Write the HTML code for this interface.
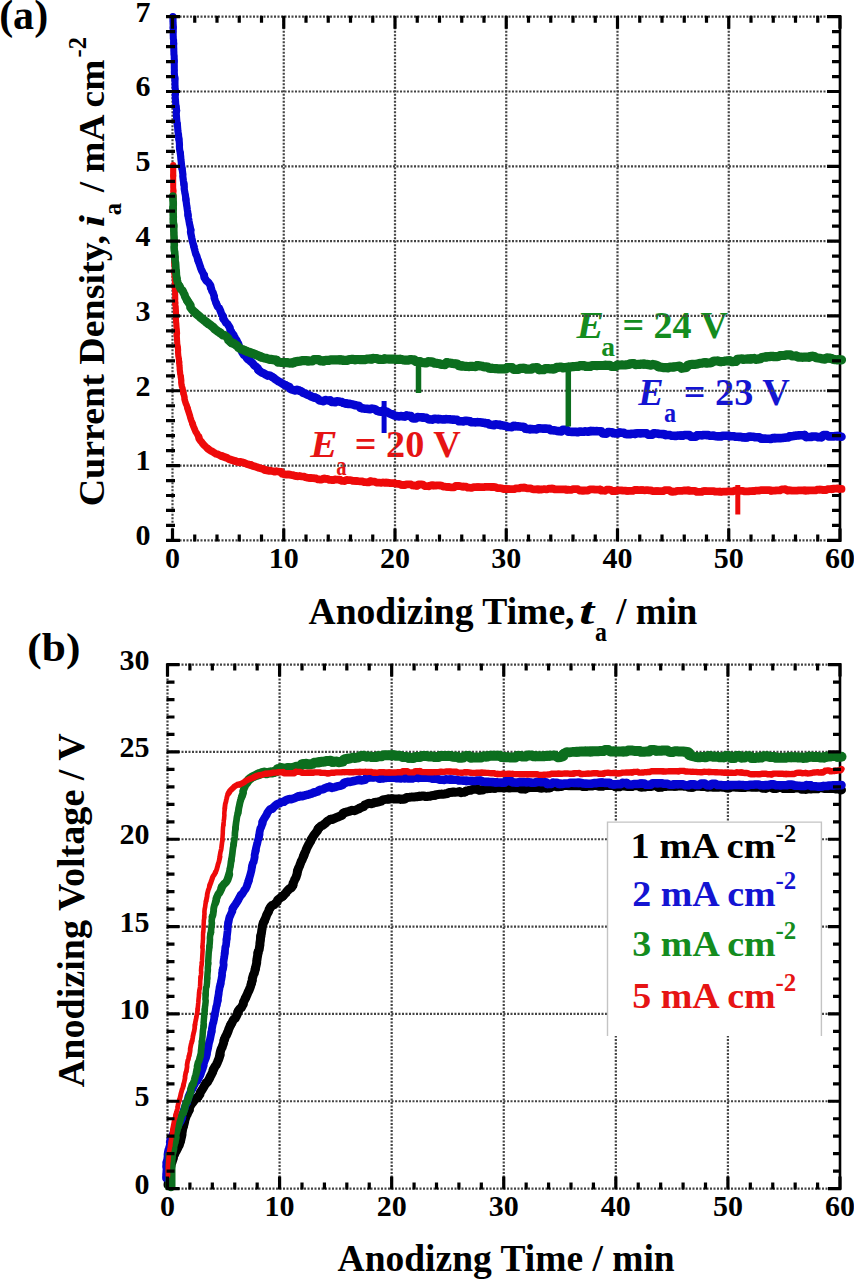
<!DOCTYPE html><html><head><meta charset="utf-8"><style>html,body{margin:0;padding:0;background:#fff;}svg{display:block;}</style></head><body>
<svg width="854" height="1280" viewBox="0 0 854 1280">
<rect width="854" height="1280" fill="#fff"/>
<text x="310.20" y="457.20" font-size="37" fill="#e61414" font-family="Liberation Serif, serif" font-weight="bold" font-style="italic" textLength="27.32" lengthAdjust="spacingAndGlyphs" xml:space="preserve">E</text>
<text x="336.18" y="474.80" font-size="27" fill="#e61414" font-family="Liberation Serif, serif" font-weight="bold" textLength="10.33" lengthAdjust="spacingAndGlyphs" xml:space="preserve">a</text>
<text x="354.79" y="456.80" font-size="37" fill="#e61414" font-family="Liberation Serif, serif" font-weight="bold" textLength="105.94" lengthAdjust="spacingAndGlyphs" xml:space="preserve">= 20 V</text>
<text x="576.51" y="338.00" font-size="37" fill="#148c1e" font-family="Liberation Serif, serif" font-weight="bold" font-style="italic" textLength="27.43" lengthAdjust="spacingAndGlyphs" xml:space="preserve">E</text>
<text x="601.18" y="355.60" font-size="27" fill="#148c1e" font-family="Liberation Serif, serif" font-weight="bold" textLength="13.74" lengthAdjust="spacingAndGlyphs" xml:space="preserve">a</text>
<text x="622.40" y="338.00" font-size="37" fill="#148c1e" font-family="Liberation Serif, serif" font-weight="bold" textLength="105.53" lengthAdjust="spacingAndGlyphs" xml:space="preserve">= 24 V</text>
<text x="638.19" y="404.80" font-size="37" fill="#1414d2" font-family="Liberation Serif, serif" font-weight="bold" font-style="italic" textLength="25.40" lengthAdjust="spacingAndGlyphs" xml:space="preserve">E</text>
<text x="664.07" y="421.80" font-size="27" fill="#1414d2" font-family="Liberation Serif, serif" font-weight="bold" textLength="12.09" lengthAdjust="spacingAndGlyphs" xml:space="preserve">a</text>
<text x="683.79" y="404.80" font-size="37" fill="#1414d2" font-family="Liberation Serif, serif" font-weight="bold" textLength="105.94" lengthAdjust="spacingAndGlyphs" xml:space="preserve">= 23 V</text>
<line x1="283.75" y1="16.7" x2="283.75" y2="540.4" stroke="#444" stroke-width="2.2" stroke-dasharray="2 1.5" fill="none"/>
<line x1="395.00" y1="16.7" x2="395.00" y2="540.4" stroke="#444" stroke-width="2.2" stroke-dasharray="2 1.5" fill="none"/>
<line x1="506.25" y1="16.7" x2="506.25" y2="540.4" stroke="#444" stroke-width="2.2" stroke-dasharray="2 1.5" fill="none"/>
<line x1="617.50" y1="16.7" x2="617.50" y2="540.4" stroke="#444" stroke-width="2.2" stroke-dasharray="2 1.5" fill="none"/>
<line x1="728.75" y1="16.7" x2="728.75" y2="540.4" stroke="#444" stroke-width="2.2" stroke-dasharray="2 1.5" fill="none"/>
<line x1="172.5" y1="465.59" x2="840.0" y2="465.59" stroke="#444" stroke-width="2.2" stroke-dasharray="2 1.5" fill="none"/>
<line x1="172.5" y1="390.77" x2="840.0" y2="390.77" stroke="#444" stroke-width="2.2" stroke-dasharray="2 1.5" fill="none"/>
<line x1="172.5" y1="315.96" x2="840.0" y2="315.96" stroke="#444" stroke-width="2.2" stroke-dasharray="2 1.5" fill="none"/>
<line x1="172.5" y1="241.14" x2="840.0" y2="241.14" stroke="#444" stroke-width="2.2" stroke-dasharray="2 1.5" fill="none"/>
<line x1="172.5" y1="166.33" x2="840.0" y2="166.33" stroke="#444" stroke-width="2.2" stroke-dasharray="2 1.5" fill="none"/>
<line x1="172.5" y1="91.51" x2="840.0" y2="91.51" stroke="#444" stroke-width="2.2" stroke-dasharray="2 1.5" fill="none"/>
<line x1="172.5" y1="16.7" x2="840.0" y2="16.7" stroke="#444" stroke-width="2.2" stroke-dasharray="2 1.5" fill="none"/>
<line x1="172.5" y1="540.4" x2="840.0" y2="540.4" stroke="#444" stroke-width="2.2" stroke-dasharray="2 1.5" fill="none"/>
<line x1="172.5" y1="16.7" x2="172.5" y2="540.4" stroke="#444" stroke-width="2.2" stroke-dasharray="2 1.5" fill="none"/>
<line x1="840.0" y1="15.2" x2="840.0" y2="541.9" stroke="#000" stroke-width="2.6"/>
<line x1="279.58" y1="664.6" x2="279.58" y2="1188.6" stroke="#444" stroke-width="2.2" stroke-dasharray="2 1.5" fill="none"/>
<line x1="391.67" y1="664.6" x2="391.67" y2="1188.6" stroke="#444" stroke-width="2.2" stroke-dasharray="2 1.5" fill="none"/>
<line x1="503.75" y1="664.6" x2="503.75" y2="1188.6" stroke="#444" stroke-width="2.2" stroke-dasharray="2 1.5" fill="none"/>
<line x1="615.83" y1="664.6" x2="615.83" y2="1188.6" stroke="#444" stroke-width="2.2" stroke-dasharray="2 1.5" fill="none"/>
<line x1="727.92" y1="664.6" x2="727.92" y2="1188.6" stroke="#444" stroke-width="2.2" stroke-dasharray="2 1.5" fill="none"/>
<line x1="167.5" y1="1101.27" x2="840.0" y2="1101.27" stroke="#444" stroke-width="2.2" stroke-dasharray="2 1.5" fill="none"/>
<line x1="167.5" y1="1013.93" x2="840.0" y2="1013.93" stroke="#444" stroke-width="2.2" stroke-dasharray="2 1.5" fill="none"/>
<line x1="167.5" y1="926.60" x2="840.0" y2="926.60" stroke="#444" stroke-width="2.2" stroke-dasharray="2 1.5" fill="none"/>
<line x1="167.5" y1="839.27" x2="840.0" y2="839.27" stroke="#444" stroke-width="2.2" stroke-dasharray="2 1.5" fill="none"/>
<line x1="167.5" y1="751.93" x2="840.0" y2="751.93" stroke="#444" stroke-width="2.2" stroke-dasharray="2 1.5" fill="none"/>
<line x1="167.5" y1="664.6" x2="840.0" y2="664.6" stroke="#444" stroke-width="2.2" stroke-dasharray="2 1.5" fill="none"/>
<line x1="167.5" y1="1188.6" x2="840.0" y2="1188.6" stroke="#444" stroke-width="2.2" stroke-dasharray="2 1.5" fill="none"/>
<line x1="167.5" y1="664.6" x2="167.5" y2="1188.6" stroke="#444" stroke-width="2.2" stroke-dasharray="2 1.5" fill="none"/>
<line x1="840.0" y1="663.1" x2="840.0" y2="1190.1" stroke="#000" stroke-width="2.6"/>
<g stroke="#0505d2" fill="none" stroke-linejoin="round" stroke-linecap="round"><path d="M172.9,16.7 L172.9,17.5 L173.0,18.4 L173.0,19.3 L173.0,20.3 L173.0,21.4 L173.1,22.5 L173.1,23.7 L173.2,25.0 L173.2,26.3 L173.2,27.7" stroke-width="7.19"/><path d="M173.2,27.7 L173.2,29.1 L173.3,30.6 L173.3,32.1 L173.2,33.6 L173.2,35.2 L173.3,36.8 L173.3,38.4 L173.6,40.1 L173.6,41.8 L173.7,43.5" stroke-width="7.04"/><path d="M173.7,43.5 L173.7,45.3 L173.7,47.0 L173.8,48.8 L173.8,50.6 L173.9,52.4 L173.9,54.2 L174.2,56.0 L174.2,57.9 L174.3,59.7 L174.2,61.5" stroke-width="7.05"/><path d="M174.2,61.5 L174.2,63.3 L174.3,65.1 L174.3,66.8 L174.3,68.6 L174.4,70.4 L174.3,72.1 L174.4,73.8 L174.5,75.5 L174.9,77.1 L174.9,78.7" stroke-width="7.05"/><path d="M174.9,78.7 L175.0,80.3 L175.0,81.8 L175.0,83.3 L175.0,84.8 L175.1,86.2 L175.1,87.5 L175.3,88.8 L175.4,90.1 L175.4,91.3 L175.5,93.4" stroke-width="7.06"/><path d="M175.5,93.4 L175.2,95.5 L175.3,97.5 L175.4,99.4 L175.6,101.3 L175.7,103.0 L175.8,104.7 L176.3,106.3 L176.4,107.9 L176.5,109.5 L176.6,111.0" stroke-width="7.10"/><path d="M176.6,111.0 L176.2,112.4 L176.3,113.9 L176.4,115.2 L176.5,116.6 L176.6,117.9 L176.7,119.3 L176.8,120.6 L176.9,121.8 L177.2,123.1 L177.3,124.4" stroke-width="7.13"/><path d="M177.3,124.4 L177.5,125.7 L177.6,127.0 L177.7,128.3 L177.8,129.6 L177.9,131.0 L178.1,132.7 L178.5,134.3 L178.6,135.9 L178.8,137.5 L178.9,139.0" stroke-width="7.14"/><path d="M178.9,139.0 L179.1,140.5 L179.3,142.0 L179.4,143.5 L179.5,144.9 L179.4,146.4 L179.5,147.9 L179.6,149.3 L179.8,150.7 L180.2,152.1 L180.4,153.6" stroke-width="7.16"/><path d="M180.4,153.6 L180.5,155.0 L180.7,156.5 L180.8,157.9 L180.9,159.4 L181.1,160.9 L181.3,162.5 L181.4,164.0 L181.6,165.5 L181.8,167.0 L182.0,168.5" stroke-width="7.18"/><path d="M182.0,168.5 L182.3,170.0 L182.5,171.5 L182.7,173.1 L182.9,174.6 L182.8,176.2 L183.0,177.7 L183.2,179.3 L183.4,180.8 L183.7,182.4 L183.9,183.9" stroke-width="7.21"/><path d="M183.9,183.9 L184.1,185.5 L184.3,187.0 L184.2,188.5 L184.4,190.1 L184.7,191.6 L184.9,193.1 L185.3,194.5 L185.5,196.0 L185.7,197.6 L185.9,199.2" stroke-width="7.22"/><path d="M185.9,199.2 L186.1,200.8 L186.3,202.4 L186.5,204.0 L186.7,205.6 L187.0,207.2 L187.2,208.8 L187.4,210.3 L187.7,211.9 L187.8,213.5 L188.0,215.0" stroke-width="7.22"/><path d="M188.0,215.0 L188.2,216.6 L188.4,218.1 L188.8,219.6 L189.0,221.1 L189.3,222.6 L189.5,224.1 L189.9,225.5 L190.2,227.0 L190.5,228.6 L190.8,230.2" stroke-width="7.26"/><path d="M190.8,230.2 L190.5,231.9 L190.8,233.5 L191.2,235.1 L191.5,236.7 L191.8,238.3 L192.2,239.9 L192.5,241.4 L192.8,242.9 L193.3,244.4 L193.7,245.9" stroke-width="7.34"/><path d="M193.7,245.9 L194.0,247.3 L194.4,248.8 L194.8,250.1 L195.1,251.5 L195.5,252.8 L195.8,254.0 L196.7,255.8 L197.2,257.6 L197.7,259.3 L198.3,261.0" stroke-width="7.42"/><path d="M198.3,261.0 L198.9,262.6 L199.4,264.1 L199.9,265.6 L200.4,267.0 L200.8,268.4 L201.3,269.6 L201.8,270.8 L202.4,271.8 L203.4,274.0 L204.2,275.5" stroke-width="7.57"/><path d="M204.2,275.5 L204.2,277.3 L204.9,278.4 L205.7,279.7 L206.6,281.0 L207.9,281.9 L208.9,283.1 L209.8,284.4 L210.6,285.9 L210.7,287.4 L211.2,288.6" stroke-width="7.81"/><path d="M211.2,288.6 L211.7,290.0 L212.1,291.4 L213.1,292.8 L213.6,294.5 L214.3,296.4 L214.2,297.8 L214.7,299.2 L215.2,300.6 L215.8,302.1 L216.4,303.6" stroke-width="7.53"/><path d="M216.4,303.6 L217.0,305.1 L217.6,306.7 L219.1,308.0 L219.8,309.5 L220.5,311.0 L221.0,312.6 L221.7,314.0 L222.5,315.3 L223.3,316.7 L223.3,318.6" stroke-width="7.69"/><path d="M223.3,318.6 L224.2,319.9 L225.1,321.3 L225.9,322.7 L227.3,323.7 L228.2,325.1 L229.0,326.4 L229.9,327.8 L230.1,329.5 L230.8,330.9 L231.5,332.2" stroke-width="7.82"/><path d="M231.5,332.2 L232.2,333.6 L233.6,334.7 L234.2,336.1 L234.9,337.6 L235.6,338.9 L236.6,340.2 L237.3,341.5 L237.9,342.8 L238.6,344.1 L238.7,345.7" stroke-width="7.71"/><path d="M238.7,345.7 L239.5,347.1 L240.2,348.5 L241.0,349.9 L241.5,351.3 L242.3,352.6 L243.1,353.9 L243.9,355.2 L245.3,356.0 L246.3,357.3 L247.3,358.5" stroke-width="7.85"/><path d="M247.3,358.5 L248.3,359.6 L249.6,360.4 L250.7,361.5 L251.9,362.6 L253.1,363.7 L254.0,365.1 L255.2,366.1 L256.5,367.1 L257.7,368.1 L258.3,370.0" stroke-width="8.18"/><path d="M258.3,370.0 L259.5,370.9 L260.8,371.9 L262.1,372.8 L263.7,373.3 L265.0,374.1 L266.3,374.9 L267.7,375.7 L269.6,375.4 L270.9,376.2 L272.3,377.0" stroke-width="8.35"/><path d="M272.3,377.0 L273.6,377.8 L274.8,378.8 L276.0,379.7 L277.3,380.5 L278.5,381.4 L279.9,382.0 L281.1,382.8 L282.4,383.6 L283.8,384.4 L285.2,385.1" stroke-width="8.35"/><path d="M285.2,385.1 L286.7,385.8 L288.0,386.4 L289.4,386.9 L290.3,388.9 L291.8,389.5 L293.4,390.0 L295.0,390.5 L297.0,389.8 L298.6,390.3 L300.1,390.9" stroke-width="8.49"/><path d="M300.1,390.9 L301.6,391.4 L302.8,392.7 L304.3,393.2 L305.8,393.9 L307.3,394.6 L308.9,395.1 L310.2,395.9 L311.6,396.6 L313.0,397.3 L314.7,397.5" stroke-width="8.46"/><path d="M314.7,397.5 L316.1,398.1 L317.7,398.7 L319.1,400.3 L320.5,400.6 L322.0,400.9 L323.6,401.2 L325.3,400.1 L326.9,400.3 L328.6,400.4 L330.3,400.6" stroke-width="8.55"/><path d="M330.3,400.6 L331.8,401.9 L333.5,402.0 L335.2,402.2 L336.9,401.2 L338.6,401.4 L340.1,401.7 L341.8,402.0 L343.2,402.9 L344.8,403.2 L346.3,403.5" stroke-width="8.58"/><path d="M346.3,403.5 L347.8,403.9 L349.4,403.8 L350.9,404.1 L352.4,404.4 L354.0,404.8 L355.6,405.3 L357.3,405.6 L359.1,406.0 L360.2,407.8 L361.7,408.1" stroke-width="8.56"/><path d="M361.7,408.1 L363.3,408.4 L365.0,408.7 L366.7,408.7 L368.4,409.0 L370.2,409.3 L372.1,408.6 L373.8,408.9 L375.5,409.3 L376.9,410.8 L378.4,411.1" stroke-width="8.57"/><path d="M378.4,411.1 L379.9,411.5 L381.3,411.8 L382.9,410.6 L384.2,410.9 L386.3,411.5 L387.7,412.1 L388.5,412.9 L389.4,413.4 L390.6,413.8 L392.3,414.3" stroke-width="8.52"/><path d="M392.3,414.3 L394.9,415.8 L395.9,415.9 L397.0,416.1 L398.2,416.2 L399.4,416.4 L400.7,416.1 L402.0,416.3 L403.4,416.4 L404.8,416.6 L406.4,415.6" stroke-width="8.58"/><path d="M406.4,415.6 L407.8,415.8 L409.4,415.9 L410.9,416.1 L412.3,418.2 L414.0,418.4 L415.7,418.5 L417.5,417.0 L419.3,417.2 L421.0,417.3 L422.8,417.6" stroke-width="8.59"/><path d="M422.8,417.6 L424.6,417.8 L426.4,417.9 L428.1,419.2 L429.9,419.4 L431.3,419.5 L432.6,419.6 L434.0,418.8 L435.4,418.9 L436.9,419.0 L438.3,419.1" stroke-width="8.59"/><path d="M438.3,419.1 L439.8,419.1 L441.3,419.2 L442.8,419.4 L444.3,419.5 L445.9,419.1 L447.5,419.2 L449.0,419.3 L450.6,419.4 L452.2,419.6 L453.8,419.7" stroke-width="8.60"/><path d="M453.8,419.7 L455.4,419.8 L457.0,419.9 L458.5,421.1 L460.1,421.2 L461.7,421.3 L463.3,421.4 L465.0,420.8 L466.5,420.9 L468.1,421.0 L469.7,421.2" stroke-width="8.60"/><path d="M469.7,421.2 L471.1,422.1 L472.7,422.2 L474.2,422.3 L475.7,422.4 L477.2,422.1 L478.6,422.2 L480.0,422.3 L481.7,422.5 L483.3,422.8 L484.9,423.0" stroke-width="8.59"/><path d="M484.9,423.0 L486.5,423.2 L488.0,423.3 L489.4,424.6 L491.0,424.8 L492.5,425.0 L494.0,425.2 L495.6,424.3 L497.1,424.5 L498.6,424.7 L500.1,424.9" stroke-width="8.59"/><path d="M500.1,424.9 L501.5,425.3 L503.0,425.5 L504.5,425.7 L506.0,425.9 L507.4,426.7 L508.8,426.9 L510.3,427.1 L511.8,427.3 L513.5,425.9 L515.0,426.1" stroke-width="8.59"/><path d="M515.0,426.1 L516.5,426.3 L518.0,426.4 L519.6,426.5 L521.1,426.7 L522.7,426.8 L524.1,427.0 L525.5,428.8 L527.0,428.9 L528.6,429.0 L530.1,429.1" stroke-width="8.59"/><path d="M530.1,429.1 L531.7,429.1 L533.3,429.2 L534.9,429.3 L536.5,429.4 L538.2,428.3 L539.8,428.4 L541.4,428.5 L543.0,428.6 L544.6,428.6 L546.2,428.7" stroke-width="8.60"/><path d="M546.2,428.7 L547.8,428.8 L549.3,428.9 L550.8,430.2 L552.4,430.3 L554.0,430.4 L555.5,430.5 L557.0,431.0 L558.5,431.1 L559.9,431.2 L561.4,431.3" stroke-width="8.60"/><path d="M561.4,431.3 L562.9,429.7 L564.3,429.8 L565.7,429.9 L567.0,430.0 L568.2,431.7 L570.0,431.8 L571.8,431.9 L573.4,431.8 L575.0,431.9 L576.5,432.0" stroke-width="8.60"/><path d="M576.5,432.0 L578.0,432.1 L579.4,431.6 L580.8,431.6 L582.2,431.7 L583.6,431.8 L584.9,431.4 L586.3,431.5 L587.7,431.6 L589.0,431.6 L590.5,431.0" stroke-width="8.60"/><path d="M590.5,431.0 L591.9,431.1 L593.4,431.1 L595.0,431.2 L596.6,431.1 L598.3,431.2 L600.0,431.3 L601.4,431.3 L602.6,433.4 L603.9,433.5 L605.2,433.5" stroke-width="8.60"/><path d="M605.2,433.5 L606.6,433.6 L608.0,432.1 L609.3,432.1 L610.7,432.2 L612.1,432.2 L613.5,433.3 L614.9,433.4 L616.3,433.4 L617.7,433.5 L619.2,432.6" stroke-width="8.60"/><path d="M619.2,432.6 L620.7,432.6 L622.2,432.7 L623.8,432.7 L625.3,434.0 L626.8,434.1 L628.4,434.1 L630.0,434.2 L631.7,433.8 L633.4,433.8 L635.1,433.9" stroke-width="8.60"/><path d="M635.1,433.9 L636.8,433.3 L638.6,433.3 L640.3,433.4 L642.2,433.2 L644.0,433.3 L645.3,433.3 L646.6,433.4 L648.0,434.6 L649.3,434.7 L650.7,434.7" stroke-width="8.60"/><path d="M650.7,434.7 L652.1,434.8 L653.6,433.4 L655.0,433.4 L656.5,433.5 L657.9,433.6 L659.4,434.0 L660.9,434.0 L662.4,434.1 L664.0,434.1 L665.5,434.9" stroke-width="8.60"/><path d="M665.5,434.9 L667.0,435.0 L668.6,435.0 L670.1,435.1 L671.7,435.8 L673.3,435.8 L674.9,435.9 L676.5,435.9 L678.1,435.5 L679.7,435.5 L681.3,435.6" stroke-width="8.60"/><path d="M681.3,435.6 L682.9,435.6 L684.5,435.0 L686.1,435.0 L687.7,435.1 L689.4,435.1 L690.9,436.6 L692.5,436.6 L694.1,436.7 L695.7,436.7 L697.4,435.2" stroke-width="8.60"/><path d="M697.4,435.2 L699.0,435.3 L700.5,435.3 L702.1,435.4 L703.7,435.0 L705.3,435.0 L706.8,435.1 L708.3,435.1 L709.9,435.7 L711.4,435.8 L713.0,435.8" stroke-width="8.60"/><path d="M713.0,435.8 L714.6,435.9 L716.2,436.3 L717.8,436.4 L719.4,436.4 L721.0,436.5 L722.7,435.7 L724.3,435.7 L726.0,435.8 L727.6,435.8 L729.3,436.1" stroke-width="8.60"/><path d="M729.3,436.1 L730.9,436.2 L732.6,436.2 L734.2,436.3 L735.9,436.8 L737.5,436.8 L739.2,436.9 L740.8,436.9 L742.4,437.4 L744.0,437.4 L745.6,437.5" stroke-width="8.60"/><path d="M745.6,437.5 L747.2,437.5 L748.8,436.6 L750.4,436.6 L752.0,436.7 L753.5,436.7 L755.0,437.3 L756.5,437.3 L758.0,437.3 L759.4,437.3 L760.9,438.5" stroke-width="8.60"/><path d="M760.9,438.5 L762.3,438.6 L763.6,438.6 L765.0,438.6 L766.3,438.8 L767.6,438.8 L768.9,438.8 L770.1,438.9 L771.3,438.9 L772.5,438.1 L774.7,438.1" stroke-width="8.60"/><path d="M774.7,438.1 L776.8,438.1 L778.7,438.1 L780.6,438.1 L782.3,438.0 L783.9,437.7 L785.4,437.6 L786.9,437.5 L788.3,437.4 L789.5,436.4 L790.8,436.3" stroke-width="8.60"/><path d="M790.8,436.3 L792.1,436.2 L793.4,436.0 L794.7,435.7 L795.9,435.6 L797.2,435.5 L798.6,435.4 L800.0,435.3 L801.4,435.2 L803.0,435.2 L804.6,435.1" stroke-width="8.60"/><path d="M804.6,435.1 L806.1,437.1 L807.6,437.0 L809.2,437.0 L810.9,437.0 L812.6,436.5 L814.4,436.5 L816.1,436.5 L817.9,437.1 L819.7,437.1 L821.5,437.1" stroke-width="8.60"/><path d="M821.5,437.1 L823.3,435.0 L825.1,435.0 L826.8,435.1 L828.5,436.4 L830.2,436.4 L831.8,436.4 L833.3,436.5 L834.8,436.1 L836.1,436.1 L837.4,436.1" stroke-width="8.60"/><path d="M837.4,436.1 L838.6,436.1 L839.7,436.2 L840.7,436.7 L841.5,436.7" stroke-width="8.60"/></g>
<path d="M384.1,401 V433" stroke="#0505d2" stroke-width="5"/>
<g stroke="#ee0a0a" fill="none" stroke-linejoin="round" stroke-linecap="round"><path d="M173.2,165.0 L173.2,165.8 L173.2,166.7 L173.2,167.6 L173.2,168.6 L173.2,169.6 L173.2,170.7 L173.2,171.9 L173.2,173.1 L173.2,174.4 L173.2,175.7" stroke-width="6.17"/><path d="M173.2,175.7 L173.2,177.0 L173.2,178.4 L173.2,179.9 L173.2,181.4 L173.2,182.9 L173.2,184.5 L173.2,186.1 L173.2,187.7 L173.4,189.3 L173.4,191.0" stroke-width="6.00"/><path d="M173.4,191.0 L173.4,192.7 L173.4,194.5 L173.5,196.2 L173.5,198.0 L173.3,199.8 L173.4,201.6 L173.4,203.4 L173.4,205.2 L173.4,207.1 L173.4,208.9" stroke-width="6.01"/><path d="M173.4,208.9 L173.3,210.8 L173.3,212.6 L173.3,214.5 L173.4,216.3 L173.4,218.2 L173.4,220.0 L173.4,221.3 L173.5,222.6 L173.5,224.0 L173.5,225.4" stroke-width="6.02"/><path d="M173.5,225.4 L173.6,226.8 L173.6,228.2 L173.6,229.7 L173.7,231.2 L173.7,232.7 L173.7,234.2 L173.7,235.7 L173.7,237.2 L173.8,238.8 L174.0,240.4" stroke-width="6.03"/><path d="M174.0,240.4 L174.0,241.9 L174.0,243.5 L174.1,245.1 L174.0,246.8 L174.0,248.4 L174.1,250.0 L174.1,251.6 L174.2,253.3 L174.3,254.9 L174.3,256.5" stroke-width="6.04"/><path d="M174.3,256.5 L174.3,258.2 L174.1,259.8 L174.1,261.5 L174.2,263.1 L174.2,264.7 L174.6,266.3 L174.6,267.9 L174.6,269.6 L174.7,271.1 L174.4,272.7" stroke-width="6.04"/><path d="M174.4,272.7 L174.4,274.3 L174.5,275.9 L174.5,277.4 L174.9,279.0 L174.9,280.5 L174.9,282.0 L175.0,283.5 L174.8,284.9 L174.8,286.4 L174.8,287.8" stroke-width="6.05"/><path d="M174.8,287.8 L174.9,289.2 L175.1,290.6 L175.1,291.9 L175.1,293.2 L175.2,294.5 L175.2,295.8 L175.2,297.0 L175.3,299.0 L175.2,300.9 L175.3,302.9" stroke-width="6.06"/><path d="M175.3,302.9 L175.3,304.7 L175.7,306.6 L175.8,308.4 L175.9,310.2 L176.0,312.0 L176.0,313.7 L176.1,315.4 L175.8,317.1 L175.9,318.7 L176.0,320.3" stroke-width="6.08"/><path d="M176.0,320.3 L176.1,321.9 L176.3,323.4 L176.4,324.9 L176.5,326.4 L176.6,327.9 L176.8,329.3 L176.9,330.7 L177.0,332.0 L177.1,333.4 L176.7,334.7" stroke-width="6.10"/><path d="M176.7,334.7 L176.8,336.0 L176.9,337.2 L177.0,338.4 L177.0,339.6 L177.1,340.7 L177.2,341.9 L177.2,342.9 L177.3,344.0 L177.8,346.5 L178.0,348.6" stroke-width="6.11"/><path d="M178.0,348.6 L178.1,350.3 L178.0,351.8 L178.1,353.1 L178.2,354.3 L178.3,355.4 L178.4,356.5 L178.7,357.6 L178.8,358.9 L179.0,360.3 L179.2,362.0" stroke-width="6.16"/><path d="M179.2,362.0 L179.2,363.3 L179.4,364.7 L179.5,366.2 L179.7,367.7 L179.7,369.3 L179.9,370.9 L180.1,372.5 L180.2,374.1 L180.7,375.7 L180.9,377.4" stroke-width="6.20"/><path d="M180.9,377.4 L181.1,379.0 L181.3,380.6 L181.2,382.2 L181.4,383.8 L181.6,385.2 L181.9,386.7 L182.5,388.0 L182.8,389.8 L183.2,391.4 L183.4,393.0" stroke-width="6.29"/><path d="M183.4,393.0 L183.8,394.6 L184.2,396.0 L184.5,397.5 L184.5,399.1 L184.9,400.5 L185.3,402.0 L185.8,403.5 L186.6,405.1 L187.1,406.8 L187.5,408.1" stroke-width="6.48"/><path d="M187.5,408.1 L187.9,409.6 L188.4,411.1 L188.9,412.6 L189.4,414.2 L189.9,415.8 L190.3,417.4 L190.8,419.0 L191.3,420.6 L192.0,422.1 L192.5,423.7" stroke-width="6.56"/><path d="M192.5,423.7 L193.0,425.1 L193.5,426.5 L194.1,427.9 L194.6,429.1 L195.1,430.3 L195.9,432.1 L196.9,433.5 L197.6,434.9 L198.2,436.1 L198.9,437.2" stroke-width="6.72"/><path d="M198.9,437.2 L199.0,438.7 L199.8,439.8 L200.7,441.0 L201.8,442.2 L202.5,443.4 L203.4,444.5 L204.5,445.5 L205.6,446.6 L206.7,447.6 L207.9,448.7" stroke-width="7.21"/><path d="M207.9,448.7 L209.2,449.7 L210.4,450.7 L212.0,451.3 L213.3,452.2 L214.7,453.1 L216.1,453.9 L217.6,454.2 L218.9,454.8 L220.2,455.4 L221.6,456.0" stroke-width="7.53"/><path d="M221.6,456.0 L223.0,456.5 L224.4,457.0 L225.8,457.5 L227.3,458.0 L228.6,459.0 L230.2,459.5 L231.7,460.0 L233.3,460.5 L234.9,461.0 L236.2,461.4" stroke-width="7.71"/><path d="M236.2,461.4 L237.6,461.9 L239.0,462.3 L240.7,461.8 L242.1,462.3 L243.5,462.7 L245.0,463.2 L246.4,463.8 L247.9,464.3 L249.4,464.7 L250.9,465.1" stroke-width="7.72"/><path d="M250.9,465.1 L252.4,465.8 L253.9,466.2 L255.4,466.6 L256.9,467.1 L258.4,467.7 L259.8,468.1 L261.3,468.5 L262.7,468.8 L264.1,469.7 L265.6,470.1" stroke-width="7.74"/><path d="M265.6,470.1 L267.0,470.4 L268.5,470.8 L270.1,470.6 L271.7,471.0 L273.2,471.3 L274.7,471.7 L276.4,471.2 L277.9,471.5 L279.5,471.8 L281.0,472.1" stroke-width="7.76"/><path d="M281.0,472.1 L282.3,473.8 L283.9,474.2 L285.3,474.4 L286.7,474.7 L288.2,474.3 L289.6,474.6 L291.0,474.9 L292.4,475.1 L293.8,475.5 L295.2,475.8" stroke-width="7.77"/><path d="M295.2,475.8 L296.6,476.1 L298.1,476.3 L299.6,476.0 L301.1,476.3 L302.6,476.5 L304.1,476.7 L305.6,477.3 L307.2,477.6 L308.8,477.8 L310.5,478.0" stroke-width="7.78"/><path d="M310.5,478.0 L312.2,478.1 L313.5,478.2 L314.9,478.4 L316.2,478.5 L317.5,479.3 L318.9,479.4 L320.3,479.6 L321.7,479.7 L323.2,478.6 L324.6,478.7" stroke-width="7.79"/><path d="M324.6,478.7 L326.0,478.8 L327.5,478.9 L328.9,479.8 L330.4,479.9 L331.9,480.0 L333.5,480.1 L335.1,479.5 L336.6,479.6 L338.2,479.7 L339.8,479.8" stroke-width="7.80"/><path d="M339.8,479.8 L341.4,480.8 L343.1,480.9 L344.8,481.0 L346.6,479.9 L348.3,480.1 L350.1,480.2 L351.4,480.3 L352.7,480.8 L354.1,480.9 L355.5,480.9" stroke-width="7.80"/><path d="M355.5,480.9 L356.9,481.0 L358.3,481.2 L359.8,481.3 L361.2,481.4 L362.7,481.5 L364.1,482.1 L365.6,482.2 L367.1,482.3 L368.6,482.4 L370.2,481.4" stroke-width="7.80"/><path d="M370.2,481.4 L371.7,481.5 L373.3,481.6 L374.8,481.7 L376.4,482.5 L377.9,482.6 L379.5,482.7 L381.1,482.8 L382.7,482.5 L384.4,482.6 L386.0,482.7" stroke-width="7.80"/><path d="M386.0,482.7 L387.6,482.7 L389.2,483.0 L390.9,483.1 L392.5,483.2 L394.2,483.2 L395.9,483.7 L397.5,483.8 L399.2,483.9 L400.9,484.8 L402.3,484.9" stroke-width="7.80"/><path d="M402.3,484.9 L403.7,485.0 L405.1,485.1 L406.6,484.3 L408.0,484.4 L409.5,484.4 L411.0,484.5 L412.4,485.4 L413.9,485.5 L415.4,485.6 L416.9,485.7" stroke-width="7.80"/><path d="M416.9,485.7 L418.5,484.4 L420.0,484.4 L421.5,484.5 L423.0,484.6 L424.5,486.0 L426.0,486.1 L427.6,486.2 L429.1,486.3 L430.7,485.3 L432.3,485.4" stroke-width="7.80"/><path d="M432.3,485.4 L433.9,485.5 L435.4,485.6 L437.0,485.3 L438.6,485.4 L440.1,485.5 L441.7,485.6 L443.2,486.7 L444.8,486.7 L446.3,486.8 L447.9,486.9" stroke-width="7.80"/><path d="M447.9,486.9 L449.4,487.2 L451.0,487.3 L452.5,487.4 L454.1,487.4 L455.7,485.9 L457.2,485.9 L458.8,486.0 L460.3,486.1 L461.8,486.6 L463.3,486.6" stroke-width="7.80"/><path d="M463.3,486.6 L464.8,486.7 L466.3,486.7 L467.8,487.7 L469.3,487.7 L470.8,487.8 L472.2,487.8 L473.7,487.1 L475.2,487.2 L476.7,487.2 L478.1,487.2" stroke-width="7.80"/><path d="M478.1,487.2 L479.6,487.1 L481.0,487.1 L482.5,487.2 L483.9,487.2 L485.4,486.8 L486.9,486.9 L488.3,486.9 L489.8,486.9 L491.3,487.0 L492.7,487.0" stroke-width="7.80"/><path d="M492.7,487.0 L494.2,487.1 L495.7,487.1 L497.2,488.2 L498.7,488.2 L500.2,488.2 L501.7,488.3 L503.2,489.0 L504.8,489.0 L506.3,489.0 L507.9,489.1" stroke-width="7.80"/><path d="M507.9,489.1 L509.4,489.1 L511.0,489.2 L512.6,489.2 L514.2,489.2 L515.9,488.4 L517.5,488.4 L519.2,488.4 L520.9,487.6 L522.6,487.6 L524.0,487.7" stroke-width="7.80"/><path d="M524.0,487.7 L525.4,487.7 L526.7,488.3 L528.1,488.3 L529.5,488.3 L530.8,488.4 L532.2,489.2 L533.6,489.3 L534.9,489.3 L536.3,489.3 L537.7,489.4" stroke-width="7.80"/><path d="M537.7,489.4 L539.1,489.5 L540.5,489.5 L541.9,489.5 L543.3,489.2 L544.7,489.2 L546.1,489.3 L547.5,489.3 L549.0,488.6 L550.4,488.6 L551.8,488.7" stroke-width="7.80"/><path d="M551.8,488.7 L553.3,488.7 L554.7,489.3 L556.2,489.3 L557.7,489.3 L559.1,489.4 L560.6,489.3 L562.1,489.3 L563.7,489.4 L565.2,489.4 L566.7,489.7" stroke-width="7.80"/><path d="M566.7,489.7 L568.3,489.7 L569.8,489.8 L571.4,489.8 L573.0,489.2 L574.6,489.2 L576.2,489.2 L577.9,489.2 L579.5,490.5 L581.2,490.5 L582.9,490.6" stroke-width="7.80"/><path d="M582.9,490.6 L584.6,490.5 L586.3,490.5 L588.0,490.6 L589.8,489.3 L591.5,489.3 L593.3,489.3 L595.1,489.6 L597.0,489.6 L598.8,489.6 L600.1,489.6" stroke-width="7.80"/><path d="M600.1,489.6 L601.4,490.7 L602.6,490.7 L603.9,490.7 L605.2,490.8 L606.6,489.7 L607.9,489.7 L609.2,489.7 L610.6,489.8 L611.9,491.0 L613.3,491.0" stroke-width="7.80"/><path d="M613.3,491.0 L614.6,491.0 L616.0,491.0 L617.4,490.3 L618.7,490.3 L620.1,490.3 L621.5,490.4 L622.9,490.7 L624.3,490.7 L625.7,490.7 L627.2,490.8" stroke-width="7.80"/><path d="M627.2,490.8 L628.6,490.8 L630.0,490.8 L631.5,490.8 L632.9,490.9 L634.4,490.0 L635.8,490.0 L637.3,490.0 L638.8,490.1 L640.3,490.2 L641.7,490.2" stroke-width="7.80"/><path d="M641.7,490.2 L643.2,490.2 L644.7,490.3 L646.2,490.2 L647.7,490.2 L649.2,490.3 L650.8,490.3 L652.3,491.1 L653.8,491.1 L655.3,491.1 L656.9,491.1" stroke-width="7.80"/><path d="M656.9,491.1 L658.4,491.1 L660.0,491.2 L661.5,491.2 L663.1,491.2 L664.6,490.2 L666.2,490.2 L667.8,490.2 L669.3,490.2 L670.9,491.6 L672.5,491.6" stroke-width="7.80"/><path d="M672.5,491.6 L674.1,491.6 L675.7,491.6 L677.3,490.8 L678.9,490.8 L680.5,490.8 L682.1,490.8 L683.7,490.5 L685.3,490.5 L686.9,490.5 L688.6,490.5" stroke-width="7.80"/><path d="M688.6,490.5 L690.2,490.9 L691.8,490.9 L693.5,490.9 L695.1,490.9 L696.7,491.9 L698.4,491.9 L700.0,491.9 L701.7,491.9 L703.3,491.1 L705.0,491.1" stroke-width="7.80"/><path d="M705.0,491.1 L706.6,491.1 L708.3,491.1 L709.7,491.2 L711.1,491.2 L712.5,491.2 L714.0,491.2 L715.5,491.7 L717.0,491.7 L718.5,491.7 L720.0,491.7" stroke-width="7.80"/><path d="M720.0,491.7 L721.6,491.8 L723.1,491.7 L724.7,491.7 L726.3,491.7 L727.9,491.3 L729.6,491.3 L731.2,491.3 L732.9,491.3 L734.5,490.7 L736.2,490.6" stroke-width="7.80"/><path d="M736.2,490.6 L737.9,490.6 L739.6,490.9 L741.3,490.9 L743.1,490.9 L744.8,491.4 L746.5,491.4 L748.3,491.4 L750.0,491.1 L751.8,491.1 L753.5,491.1" stroke-width="7.80"/><path d="M753.5,491.1 L755.3,490.7 L757.1,490.7 L758.8,490.6 L760.6,490.2 L762.4,490.2 L764.1,490.2 L765.9,490.2 L767.7,490.1 L769.5,490.1 L771.2,490.7" stroke-width="7.80"/><path d="M771.2,490.7 L773.0,490.7 L774.8,490.7 L776.5,490.4 L778.3,490.3 L780.0,490.3 L781.7,489.3 L783.5,489.3 L785.2,489.2 L786.9,490.5 L788.6,490.4" stroke-width="7.80"/><path d="M788.6,490.4 L790.3,490.4 L792.0,490.7 L793.7,490.7 L795.4,490.7 L797.0,490.6 L798.6,490.4 L800.3,490.4 L801.9,490.4 L803.5,490.3 L805.1,490.5" stroke-width="7.80"/><path d="M805.1,490.5 L806.6,490.5 L808.2,490.5 L809.7,490.4 L811.2,490.4 L812.7,490.4 L814.2,490.4 L815.6,490.4 L817.0,489.7 L818.4,489.6 L819.8,489.6" stroke-width="7.80"/><path d="M819.8,489.6 L821.1,489.6 L822.5,490.0 L823.8,490.0 L825.1,490.0 L826.3,490.0 L827.5,489.2 L828.7,489.2 L829.9,489.2 L831.1,489.1 L832.2,489.1" stroke-width="7.80"/><path d="M832.2,489.1 L833.2,488.6 L834.3,488.6 L835.3,488.6 L836.3,488.6 L837.3,488.5 L838.2,488.5 L839.1,489.0 L839.9,489.0 L840.7,488.9 L841.5,488.9" stroke-width="7.80"/></g>
<path d="M737.8,485 V514.5" stroke="#ee0a0a" stroke-width="5"/>
<g stroke="#0c6e1e" fill="none" stroke-linejoin="round" stroke-linecap="round"><path d="M172.9,196.0 L172.9,196.8 L172.9,197.7 L173.0,198.8 L173.0,199.9 L173.1,201.1 L173.2,202.5 L173.2,203.8 L173.2,205.3 L173.0,206.9 L173.1,208.4" stroke-width="7.69"/><path d="M173.1,208.4 L173.1,210.1 L173.1,211.8 L173.2,213.5 L173.2,215.2 L173.3,217.0 L173.2,218.8 L173.3,220.6 L173.3,222.4 L173.7,224.1 L173.7,225.9" stroke-width="7.54"/><path d="M173.7,225.9 L173.8,227.6 L173.8,229.3 L173.8,231.0 L173.9,232.6 L173.9,234.2 L174.0,235.7 L174.1,237.1 L174.1,238.5 L174.1,239.8 L174.2,241.0" stroke-width="7.55"/><path d="M174.2,241.0 L174.2,243.1 L174.3,245.1 L174.1,246.9 L174.2,248.7 L174.3,250.4 L174.7,251.9 L174.8,253.4 L174.9,254.9 L175.0,256.2 L174.9,257.6" stroke-width="7.59"/><path d="M174.9,257.6 L175.0,258.9 L175.1,260.1 L175.2,261.4 L175.5,262.6 L175.6,263.8 L175.7,265.0 L175.8,266.8 L175.9,268.5 L176.0,270.1 L176.1,271.6" stroke-width="7.63"/><path d="M176.1,271.6 L176.2,273.0 L176.2,274.3 L176.4,275.7 L176.6,277.0 L177.0,278.5 L177.0,280.1 L177.4,281.6 L177.9,283.1 L178.5,284.6 L179.4,286.1" stroke-width="7.90"/><path d="M179.4,286.1 L180.1,287.6 L180.8,289.2 L182.3,290.3 L183.1,291.8 L183.8,293.3 L184.6,294.7 L185.0,296.3 L185.7,297.7 L186.5,299.1 L187.2,300.5" stroke-width="8.27"/><path d="M187.2,300.5 L188.1,301.7 L188.9,303.0 L189.7,304.2 L190.5,305.5 L190.4,307.4 L191.4,308.7 L192.4,309.9 L193.4,311.1 L194.6,312.1 L195.7,313.2" stroke-width="8.52"/><path d="M195.7,313.2 L196.8,314.2 L198.0,315.3 L199.3,316.3 L200.5,317.4 L201.8,318.4 L203.1,319.4 L204.3,320.5 L205.6,321.5 L206.8,322.5 L208.0,323.4" stroke-width="8.81"/><path d="M208.0,323.4 L209.3,324.3 L210.6,325.3 L211.9,326.3 L213.2,327.2 L214.2,328.5 L215.4,329.5 L216.7,330.5 L217.9,331.4 L219.2,332.1 L220.3,332.9" stroke-width="8.84"/><path d="M220.3,332.9 L221.6,334.0 L222.9,335.1 L224.7,335.3 L225.9,336.3 L227.1,337.4 L228.2,338.3 L228.5,340.2 L229.6,341.1 L230.7,342.0 L231.8,342.9" stroke-width="8.80"/><path d="M231.8,342.9 L233.7,343.4 L235.0,344.4 L236.3,345.3 L237.6,346.2 L238.6,347.6 L240.1,348.5 L241.7,349.4 L243.2,349.7 L244.6,350.4 L246.0,351.0" stroke-width="8.94"/><path d="M246.0,351.0 L247.5,351.7 L249.2,352.1 L250.7,352.8 L252.3,353.4 L253.9,353.9 L255.4,354.5 L256.9,355.1 L258.4,355.7 L259.8,356.4 L261.2,356.9" stroke-width="9.07"/><path d="M261.2,356.9 L262.7,357.5 L264.2,358.0 L265.7,358.2 L267.2,358.7 L268.7,359.1 L270.2,359.5 L271.8,359.4 L273.3,359.7 L274.9,360.0 L276.5,360.2" stroke-width="9.14"/><path d="M276.5,360.2 L278.0,362.1 L279.6,362.3 L281.3,362.5 L283.0,362.5 L284.7,362.6 L286.3,362.7 L288.0,362.7 L289.6,363.1 L291.1,363.0 L292.4,362.9" stroke-width="9.19"/><path d="M292.4,362.9 L293.8,362.7 L295.0,361.8 L296.4,361.6 L298.0,361.4 L299.8,361.2 L301.9,360.7 L304.3,360.6 L305.5,360.6 L306.7,360.6 L308.0,361.0" stroke-width="9.19"/><path d="M308.0,361.0 L309.4,361.0 L310.9,361.0 L312.4,361.0 L313.9,359.6 L315.5,359.6 L317.1,359.6 L318.8,359.6 L320.4,360.9 L322.1,360.9 L323.8,360.9" stroke-width="9.20"/><path d="M323.8,360.9 L325.5,360.4 L327.2,360.4 L328.9,360.4 L330.6,359.8 L332.2,359.8 L333.9,359.8 L335.5,359.8 L337.0,359.8 L338.5,359.8 L340.0,359.8" stroke-width="9.20"/><path d="M340.0,359.8 L341.6,359.8 L343.2,360.5 L344.7,360.4 L346.2,360.3 L347.6,360.3 L349.0,359.5 L350.4,359.5 L351.8,359.4 L353.2,359.3 L354.6,359.7" stroke-width="9.20"/><path d="M354.6,359.7 L356.0,359.6 L357.4,359.5 L358.8,359.5 L360.3,359.7 L361.9,359.7 L363.4,359.6 L365.1,359.6 L366.8,359.1 L368.5,359.0 L370.4,359.0" stroke-width="9.20"/><path d="M370.4,359.0 L371.7,359.1 L373.0,358.4 L374.4,358.5 L375.7,358.5 L377.1,358.5 L378.5,359.4 L380.0,359.4 L381.5,359.5 L383.0,359.5 L384.5,358.9" stroke-width="9.20"/><path d="M384.5,358.9 L386.0,359.0 L387.6,359.0 L389.1,359.1 L390.7,359.1 L392.3,359.2 L393.8,359.2 L395.4,359.3 L397.0,359.3 L398.7,359.3 L400.3,359.4" stroke-width="9.20"/><path d="M400.3,359.4 L401.9,359.5 L403.4,360.0 L405.0,360.1 L406.6,360.1 L408.2,360.2 L409.9,359.6 L411.4,359.7 L413.0,359.8 L414.5,359.9 L416.0,361.4" stroke-width="9.20"/><path d="M416.0,361.4 L417.5,361.5 L419.0,361.6 L420.5,361.7 L422.0,362.5 L423.5,362.7 L425.1,362.8 L426.6,362.9 L428.2,361.7 L429.8,361.8 L431.3,362.0" stroke-width="9.19"/><path d="M431.3,362.0 L432.8,362.1 L434.3,363.1 L435.8,363.2 L437.3,363.4 L438.8,363.5 L440.3,364.2 L441.9,364.4 L443.4,364.5 L444.9,364.7 L446.7,362.7" stroke-width="9.19"/><path d="M446.7,362.7 L448.2,362.9 L449.7,363.0 L451.2,363.2 L452.7,363.5 L454.3,363.7 L455.8,363.8 L457.3,364.0 L458.7,365.7 L460.2,365.8 L461.7,365.9" stroke-width="9.19"/><path d="M461.7,365.9 L463.3,366.1 L464.8,366.3 L466.3,366.4 L467.8,366.5 L469.3,366.6 L470.9,366.3 L472.4,366.4 L473.9,366.5 L475.5,366.6 L477.1,365.6" stroke-width="9.19"/><path d="M477.1,365.6 L478.6,365.7 L480.1,365.9 L481.6,366.0 L483.1,366.7 L484.6,366.8 L486.1,366.9 L487.7,367.0 L489.1,368.2 L490.6,368.3 L492.2,368.4" stroke-width="9.20"/><path d="M492.2,368.4 L493.7,368.5 L495.2,368.6 L496.7,368.7 L498.2,368.8 L499.8,368.9 L501.3,368.8 L502.8,368.8 L504.3,368.9 L505.9,369.0 L507.4,367.6" stroke-width="9.20"/><path d="M507.4,367.6 L509.0,367.6 L510.5,367.7 L512.1,367.7 L513.6,369.3 L515.2,369.4 L516.8,369.4 L518.4,369.4 L520.0,368.3 L521.7,368.3 L523.3,368.3" stroke-width="9.20"/><path d="M523.3,368.3 L524.9,368.3 L526.5,369.2 L528.1,369.2 L529.8,369.2 L531.4,369.2 L533.0,367.8 L534.5,367.8 L536.1,367.7 L537.6,367.7 L539.2,369.7" stroke-width="9.20"/><path d="M539.2,369.7 L540.7,369.7 L542.2,369.7 L543.7,369.7 L545.1,368.7 L546.5,368.7 L547.9,368.7 L549.2,368.7 L550.5,368.9 L551.8,368.9 L553.0,368.8" stroke-width="9.20"/><path d="M553.0,368.8 L555.0,368.8 L556.7,367.4 L558.4,367.3 L560.0,367.2 L561.5,367.1 L563.0,367.9 L564.4,367.7 L565.7,367.6 L567.0,367.4 L568.3,367.2" stroke-width="9.19"/><path d="M568.3,367.2 L569.5,367.0 L570.9,366.9 L572.2,366.7 L573.6,366.6 L575.1,366.5 L576.6,366.4 L578.3,366.3 L580.0,365.7 L581.3,365.6 L582.7,365.6" stroke-width="9.19"/><path d="M582.7,365.6 L584.2,365.6 L585.7,366.4 L587.2,366.4 L588.7,366.4 L590.3,366.4 L591.9,365.5 L593.6,365.5 L595.2,365.5 L596.9,365.6 L598.5,365.5" stroke-width="9.20"/><path d="M598.5,365.5 L600.2,365.5 L601.8,365.5 L603.5,365.5 L605.1,365.2 L606.7,365.3 L608.3,365.3 L609.9,365.3 L611.4,366.5 L613.0,366.5 L614.4,366.5" stroke-width="9.20"/><path d="M614.4,366.5 L615.8,366.5 L617.2,365.1 L618.5,365.1 L620.3,365.0 L622.0,364.9 L623.7,365.0 L625.3,364.9 L626.9,364.7 L628.4,364.5 L629.8,364.0" stroke-width="9.19"/><path d="M629.8,364.0 L631.2,363.8 L632.6,363.6 L634.0,363.5 L635.5,364.7 L636.9,364.5 L638.3,364.4 L639.7,364.4 L641.1,364.1 L642.5,364.1 L644.0,364.1" stroke-width="9.19"/><path d="M644.0,364.1 L645.5,364.2 L646.9,364.4 L648.4,364.6 L649.8,364.9 L651.2,365.2 L652.8,364.4 L654.2,364.7 L655.6,365.1 L657.1,365.4 L658.3,366.7" stroke-width="9.17"/><path d="M658.3,366.7 L659.8,367.0 L661.3,367.3 L662.9,367.6 L664.5,367.6 L666.2,367.7 L668.0,367.8 L669.8,367.2 L671.1,367.2 L672.4,367.1 L673.8,367.0" stroke-width="9.19"/><path d="M673.8,367.0 L675.2,366.7 L676.7,366.5 L678.2,366.3 L679.7,366.1 L681.6,368.3 L683.2,368.0 L684.8,367.8 L686.4,367.5 L687.7,365.2 L689.3,364.9" stroke-width="9.18"/><path d="M689.3,364.9 L691.0,364.6 L692.6,364.3 L694.3,364.5 L695.9,364.2 L697.5,363.9 L699.1,363.6 L700.7,363.3 L702.3,363.1 L703.8,362.8 L705.3,362.6" stroke-width="9.18"/><path d="M705.3,362.6 L706.9,363.2 L708.3,363.0 L710.0,362.8 L711.6,362.7 L713.1,361.3 L714.7,361.1 L716.3,361.0 L717.9,360.9 L719.5,361.7 L721.0,361.6" stroke-width="9.19"/><path d="M721.0,361.6 L722.5,361.5 L724.0,361.4 L725.5,361.0 L727.0,360.9 L728.4,360.8 L729.9,360.7 L731.5,361.7 L733.0,361.6 L734.4,361.5 L735.9,361.4" stroke-width="9.20"/><path d="M735.9,361.4 L737.3,359.3 L738.8,359.2 L740.3,359.0 L741.8,358.9 L743.4,359.5 L744.9,359.3 L746.5,359.1 L748.0,358.9 L749.6,359.1 L751.1,358.9" stroke-width="9.19"/><path d="M751.1,358.9 L752.6,358.7 L754.2,358.4 L755.8,359.4 L757.4,359.1 L758.9,358.9 L760.4,358.7 L761.8,357.5 L763.3,357.3 L764.9,357.1 L766.4,356.9" stroke-width="9.19"/><path d="M766.4,356.9 L767.9,356.7 L769.4,356.6 L771.0,356.4 L772.5,356.3 L774.0,356.7 L775.6,356.6 L777.1,356.6 L778.6,356.5 L780.0,355.6 L781.5,355.5" stroke-width="9.20"/><path d="M781.5,355.5 L783.0,355.5 L784.5,355.5 L786.0,354.8 L787.5,354.8 L789.0,354.8 L790.5,354.8 L792.0,356.0 L793.5,356.0 L795.1,356.0 L796.6,356.1" stroke-width="9.20"/><path d="M796.6,356.1 L798.2,357.1 L799.7,357.2 L801.3,357.2 L802.9,357.3 L804.6,357.0 L806.0,357.1 L807.6,357.2 L809.2,357.3 L810.9,356.3 L812.7,356.4" stroke-width="9.20"/><path d="M812.7,356.4 L814.4,356.6 L816.1,357.8 L817.9,358.0 L819.7,358.2 L821.4,358.7 L823.2,358.9 L825.0,359.1 L826.9,357.9 L828.6,358.1 L830.2,358.3" stroke-width="9.19"/><path d="M830.2,358.3 L831.8,358.5 L833.3,359.5 L834.7,359.6 L836.1,359.8 L837.4,360.0 L838.7,359.5 L839.7,359.7 L840.7,359.8 L841.5,359.9" stroke-width="9.19"/></g>
<path d="M418.5,360 V393" stroke="#0c6e1e" stroke-width="5.5"/>
<path d="M568.3,367 V426.5" stroke="#0c6e1e" stroke-width="5.5"/>
<g stroke="#000" fill="none" stroke-linejoin="round" stroke-linecap="round"><path d="M168.0,1185.0 L168.1,1184.1 L168.3,1182.9 L168.4,1181.5 L168.4,1179.9 L168.6,1178.2 L168.8,1176.5 L169.4,1174.8 L169.6,1173.1 L169.9,1171.5 L170.1,1170.0" stroke-width="9.00"/><path d="M170.1,1170.0 L170.4,1168.4 L170.7,1166.8 L171.1,1165.2 L171.4,1163.7 L172.0,1162.3 L172.4,1160.9 L172.9,1159.5 L173.4,1158.2 L173.4,1156.4 L174.1,1154.9" stroke-width="9.00"/><path d="M174.1,1154.9 L174.9,1153.5 L175.6,1152.1 L176.4,1150.7 L177.1,1149.3 L177.8,1147.9 L178.3,1146.5 L179.3,1145.2 L179.7,1143.7 L180.2,1142.2 L180.6,1140.7" stroke-width="9.00"/><path d="M180.6,1140.7 L181.0,1139.0 L181.4,1137.2 L181.7,1135.9 L182.0,1134.5 L182.0,1132.9 L182.3,1131.4 L182.5,1129.9 L182.8,1128.3 L183.4,1126.7 L183.7,1125.1" stroke-width="9.00"/><path d="M183.7,1125.1 L184.1,1123.6 L184.6,1122.0 L184.8,1120.4 L185.3,1118.9 L185.8,1117.4 L186.3,1115.8 L187.2,1114.4 L187.8,1112.9 L188.5,1111.4 L189.2,1109.9" stroke-width="9.00"/><path d="M189.2,1109.9 L189.3,1108.0 L190.1,1106.5 L190.8,1105.2 L191.6,1103.9 L192.6,1102.7 L193.5,1101.4 L194.4,1100.1 L195.4,1098.9 L197.1,1098.2 L198.0,1096.9" stroke-width="9.00"/><path d="M198.0,1096.9 L199.0,1095.6 L199.9,1094.4 L200.2,1092.7 L201.0,1091.4 L201.9,1090.0 L202.8,1088.6 L203.6,1087.2 L204.4,1085.8 L205.3,1084.4 L206.1,1083.0" stroke-width="9.00"/><path d="M206.1,1083.0 L207.5,1081.9 L208.3,1080.5 L209.1,1079.2 L209.8,1077.8 L210.4,1076.3 L211.2,1074.9 L211.9,1073.5 L212.7,1072.1 L212.9,1070.5 L213.7,1069.1" stroke-width="9.00"/><path d="M213.7,1069.1 L214.4,1067.7 L215.1,1066.4 L216.1,1065.2 L216.8,1063.8 L217.4,1062.4 L217.9,1061.0 L218.6,1059.5 L219.1,1058.0 L219.6,1056.5 L220.0,1054.9" stroke-width="9.00"/><path d="M220.0,1054.9 L220.0,1053.3 L220.4,1051.7 L220.8,1050.2 L221.3,1048.7 L222.1,1047.3 L222.6,1045.7 L223.2,1044.2 L223.7,1042.7 L223.8,1041.0 L224.4,1039.5" stroke-width="9.00"/><path d="M224.4,1039.5 L225.0,1038.0 L225.6,1036.4 L226.5,1035.0 L227.1,1033.5 L227.8,1032.0 L228.4,1030.4 L228.8,1028.9 L229.5,1027.5 L230.1,1026.1 L230.8,1024.7" stroke-width="9.00"/><path d="M230.8,1024.7 L231.6,1023.4 L232.3,1022.0 L233.0,1020.6 L233.8,1019.2 L235.3,1018.2 L236.0,1016.8 L236.7,1015.5 L237.4,1014.1 L237.6,1012.5 L238.3,1011.2" stroke-width="9.00"/><path d="M238.3,1011.2 L239.1,1009.9 L239.8,1008.7 L241.2,1007.8 L241.9,1006.5 L242.7,1005.1 L243.4,1003.8 L243.5,1002.1 L244.2,1000.7 L244.9,999.3 L245.5,997.9" stroke-width="9.00"/><path d="M245.5,997.9 L246.3,996.5 L246.9,995.1 L247.5,993.6 L248.1,992.1 L248.9,990.7 L249.5,989.1 L250.1,987.6 L250.6,986.1 L251.0,984.5 L251.5,983.1" stroke-width="9.00"/><path d="M251.5,983.1 L251.9,981.6 L252.4,980.2 L252.3,978.7 L252.7,977.3 L253.1,975.9 L253.5,974.5 L254.3,973.2 L254.6,971.8 L255.0,970.3 L255.3,968.8" stroke-width="9.00"/><path d="M255.3,968.8 L255.7,967.2 L256.1,965.5 L256.4,964.1 L256.7,962.6 L256.7,961.0 L257.0,959.5 L257.2,957.9 L257.5,956.2 L257.8,954.5 L258.0,952.9" stroke-width="9.00"/><path d="M258.0,952.9 L258.3,951.2 L259.1,949.7 L259.4,948.0 L259.6,946.5 L259.9,944.9 L259.9,943.4 L260.1,942.0 L260.4,940.2 L260.5,938.3 L260.7,936.6" stroke-width="9.00"/><path d="M260.7,936.6 L261.0,934.9 L261.4,933.3 L261.6,931.7 L261.8,930.2 L262.1,928.7 L262.2,927.2 L262.5,925.8 L262.8,924.4 L263.3,922.7 L264.3,921.2" stroke-width="9.00"/><path d="M264.3,921.2 L264.9,919.6 L265.5,918.2 L266.1,916.8 L266.5,915.4 L267.1,914.1 L267.8,912.8 L268.7,911.2 L269.1,909.6 L269.9,908.2 L270.8,906.9" stroke-width="9.00"/><path d="M270.8,906.9 L271.9,905.5 L273.9,904.8 L274.9,903.9 L276.0,902.9 L277.2,902.0 L277.6,900.0 L278.9,899.0 L280.2,898.0 L281.4,897.0 L282.8,896.1" stroke-width="9.00"/><path d="M282.8,896.1 L284.0,895.0 L284.9,893.9 L285.9,893.0 L286.6,891.7 L287.5,890.7 L288.5,889.7 L289.4,888.7 L291.1,888.1 L292.0,886.7 L292.9,885.2" stroke-width="9.00"/><path d="M292.9,885.2 L293.1,883.2 L293.7,882.1 L294.2,880.9 L294.7,879.6 L295.6,878.3 L296.1,876.9 L296.6,875.4 L297.1,873.9 L297.3,872.2 L297.7,870.6" stroke-width="9.00"/><path d="M297.7,870.6 L298.2,869.0 L298.8,867.5 L299.6,866.0 L300.1,864.4 L300.7,862.9 L301.2,861.4 L302.0,860.1 L302.6,858.6 L303.2,857.0 L303.9,855.5" stroke-width="9.00"/><path d="M303.9,855.5 L304.4,853.9 L305.1,852.3 L305.8,850.8 L306.4,849.2 L307.1,847.7 L307.8,846.2 L308.6,844.8 L309.3,843.4 L310.0,842.1 L310.7,840.8" stroke-width="9.00"/><path d="M310.7,840.8 L311.3,839.5 L311.9,838.4 L312.9,836.8 L313.8,835.3 L314.8,834.1 L315.7,832.9 L316.5,831.8 L317.4,830.8 L317.8,829.2 L318.7,828.2" stroke-width="9.00"/><path d="M318.7,828.2 L319.7,827.2 L320.9,826.1 L322.4,825.6 L323.5,824.7 L324.6,823.8 L325.8,822.9 L326.8,821.7 L328.1,820.8 L329.4,820.0 L330.8,819.2" stroke-width="9.00"/><path d="M330.8,819.2 L332.7,819.4 L334.1,818.6 L335.6,817.9 L336.8,817.3 L338.2,816.9 L339.5,816.3 L340.8,815.8 L342.1,815.3 L342.9,813.3 L344.4,812.8" stroke-width="9.00"/><path d="M344.4,812.8 L345.8,812.3 L347.3,811.8 L348.9,811.4 L350.5,810.9 L352.1,810.3 L354.1,810.7 L355.4,810.2 L356.7,809.7 L358.1,809.1 L359.4,808.3" stroke-width="9.00"/><path d="M359.4,808.3 L360.8,807.7 L362.2,807.1 L363.7,806.5 L364.8,805.0 L366.3,804.4 L367.8,803.8 L369.3,803.2 L371.3,803.8 L372.7,803.3 L374.2,802.8" stroke-width="9.00"/><path d="M374.2,802.8 L375.6,802.3 L377.2,802.3 L378.5,801.9 L379.8,801.5 L381.4,801.2 L382.8,799.9 L384.3,799.6 L385.7,799.4 L387.1,799.2 L388.5,799.0" stroke-width="9.00"/><path d="M388.5,799.0 L389.9,798.9 L391.3,798.8 L392.8,798.7 L394.3,799.1 L395.8,799.0 L397.4,798.9 L399.1,798.8 L401.0,799.4 L402.3,799.2 L403.7,799.1" stroke-width="9.00"/><path d="M403.7,799.1 L405.1,799.0 L406.5,797.5 L408.0,797.4 L409.5,797.3 L411.1,797.1 L412.7,797.1 L414.3,796.9 L415.9,796.8 L417.5,796.7 L419.1,796.3" stroke-width="9.00"/><path d="M419.1,796.3 L420.7,796.2 L422.3,796.0 L423.9,795.9 L425.5,796.6 L427.0,796.5 L428.5,796.3 L429.9,796.2 L431.3,795.7 L433.1,795.5 L434.8,795.3" stroke-width="9.00"/><path d="M434.8,795.3 L436.5,794.7 L438.1,794.5 L439.7,794.3 L441.3,794.1 L442.9,794.2 L444.5,794.0 L446.0,793.7 L447.5,793.5 L448.9,792.6 L450.4,792.4" stroke-width="9.00"/><path d="M450.4,792.4 L451.9,792.2 L453.4,792.0 L454.9,792.3 L456.5,792.1 L458.0,791.9 L459.4,791.6 L461.1,792.7 L462.4,792.4 L463.8,792.2 L465.2,791.9" stroke-width="9.00"/><path d="M465.2,791.9 L466.4,790.9 L467.9,790.7 L469.3,790.4 L470.9,790.2 L472.4,789.4 L474.1,789.2 L476.0,789.1 L477.2,789.0 L478.6,790.2 L480.0,790.1" stroke-width="9.00"/><path d="M480.0,790.1 L481.4,790.0 L482.8,790.0 L484.2,788.8 L485.7,788.7 L487.2,788.7 L488.7,788.6 L490.2,788.4 L491.8,788.3 L493.4,788.3 L494.9,788.3" stroke-width="9.00"/><path d="M494.9,788.3 L496.5,787.8 L498.1,787.8 L499.7,787.7 L501.3,787.7 L502.8,787.9 L504.4,787.9 L505.9,787.8 L507.5,787.8 L509.0,787.9 L510.5,787.8" stroke-width="9.00"/><path d="M510.5,787.8 L512.0,787.8 L513.5,787.8 L515.0,787.8 L516.5,787.8 L518.0,787.8 L519.5,787.7 L521.0,789.0 L522.5,789.0 L524.0,789.0 L525.5,788.9" stroke-width="9.00"/><path d="M525.5,788.9 L527.0,787.7 L528.6,787.7 L530.1,787.6 L531.7,787.6 L533.3,787.5 L534.9,787.5 L536.6,787.4 L538.3,787.4 L540.0,788.0 L541.4,787.9" stroke-width="9.00"/><path d="M541.4,787.9 L542.6,787.9 L543.8,787.8 L545.0,787.7 L546.1,788.2 L547.2,788.1 L548.2,788.0 L549.2,787.9 L550.2,787.8 L551.2,786.4 L552.2,786.3" stroke-width="9.00"/><path d="M552.2,786.3 L553.3,786.2 L554.5,786.1 L555.7,786.0 L557.1,786.8 L558.5,786.7 L560.0,786.6 L561.6,786.5 L563.3,785.6 L565.1,785.5 L567.2,785.5" stroke-width="9.00"/><path d="M567.2,785.5 L569.4,785.8 L571.7,785.7 L574.3,785.7 L577.0,785.7 L580.0,785.7 L581.0,785.7 L582.0,786.4 L583.1,786.4 L584.2,786.4 L585.3,786.4" stroke-width="9.00"/><path d="M585.3,786.4 L586.4,786.4 L587.5,786.0 L588.7,786.0 L589.8,786.0 L591.0,786.0 L592.2,786.0 L593.5,785.5 L594.7,785.5 L596.0,785.5 L597.2,785.6" stroke-width="9.00"/><path d="M597.2,785.6 L598.5,786.2 L599.8,786.2 L601.2,786.3 L602.5,786.3 L603.9,785.3 L605.2,785.3 L606.6,785.4 L608.0,785.4 L609.4,785.4 L610.9,785.4" stroke-width="9.00"/><path d="M610.9,785.4 L612.3,785.5 L613.8,785.5 L615.2,786.6 L616.7,786.7 L618.2,786.7 L619.7,786.7 L621.2,785.9 L622.7,785.9 L624.3,785.9 L625.8,786.0" stroke-width="9.00"/><path d="M625.8,786.0 L627.3,786.4 L628.9,786.5 L630.5,786.5 L632.1,786.5 L633.7,785.6 L635.3,785.6 L636.9,785.7 L638.5,785.7 L640.1,786.9 L641.7,786.9" stroke-width="9.00"/><path d="M641.7,786.9 L643.3,787.0 L645.0,787.0 L646.6,786.4 L648.3,786.4 L649.9,786.5 L651.6,786.5 L653.2,785.8 L654.9,785.8 L656.6,785.8 L658.2,787.2" stroke-width="9.00"/><path d="M658.2,787.2 L659.9,787.3 L661.6,787.3 L663.3,786.4 L664.9,786.4 L666.6,786.4 L668.3,786.2 L670.0,786.2 L671.7,786.3 L673.4,786.1 L675.0,786.2" stroke-width="9.00"/><path d="M675.0,786.2 L676.7,786.2 L678.4,785.9 L680.1,785.9 L681.8,785.9 L683.4,786.2 L685.1,786.2 L686.8,786.2 L688.4,787.2 L690.1,787.2 L691.8,787.3" stroke-width="9.00"/><path d="M691.8,787.3 L693.4,787.3 L695.1,786.2 L696.7,786.2 L698.4,786.3 L700.0,786.3 L701.4,786.5 L702.8,786.6 L704.3,786.6 L705.7,786.6 L707.2,787.0" stroke-width="9.00"/><path d="M707.2,787.0 L708.7,787.0 L710.2,787.0 L711.7,787.1 L713.3,787.3 L714.9,787.3 L716.4,787.3 L718.0,787.3 L719.6,787.0 L721.3,787.1 L722.9,787.1" stroke-width="9.00"/><path d="M722.9,787.1 L724.5,787.1 L726.2,787.9 L727.8,788.0 L729.5,788.0 L731.2,786.9 L732.9,787.0 L734.6,787.0 L736.3,787.2 L738.0,787.3 L739.8,787.3" stroke-width="9.00"/><path d="M739.8,787.3 L741.5,787.4 L743.2,787.4 L745.0,787.5 L746.7,786.9 L748.5,786.9 L750.2,787.0 L752.0,787.2 L753.8,787.2 L755.5,787.2 L757.3,787.1" stroke-width="9.00"/><path d="M757.3,787.1 L759.0,787.1 L760.8,787.1 L762.5,788.3 L764.3,788.3 L766.1,788.4 L767.8,787.2 L769.6,787.3 L771.3,787.3 L773.1,788.4 L774.8,788.4" stroke-width="9.00"/><path d="M774.8,788.4 L776.5,788.4 L778.3,787.5 L780.0,787.6 L781.7,787.6 L783.4,788.5 L785.1,788.5 L786.8,788.5 L788.4,788.6 L790.1,788.6 L791.8,788.6" stroke-width="9.00"/><path d="M791.8,788.6 L793.4,788.6 L795.0,788.0 L796.7,788.1 L798.3,788.1 L799.9,788.1 L801.4,789.3 L803.0,789.3 L804.5,789.3 L806.0,789.4 L807.6,788.8" stroke-width="9.00"/><path d="M807.6,788.8 L809.1,788.8 L810.5,788.9 L812.0,788.9 L813.4,788.7 L814.9,788.7 L816.3,788.8 L817.6,788.8 L819.0,787.8 L820.4,787.8 L821.7,787.8" stroke-width="9.00"/><path d="M821.7,787.8 L823.0,787.8 L824.2,788.6 L825.5,788.6 L826.7,788.6 L827.9,788.6 L829.0,788.6 L830.2,788.4 L831.3,788.4 L832.4,788.4 L833.4,788.4" stroke-width="9.00"/><path d="M833.4,788.4 L834.4,788.4 L835.4,788.9 L836.4,788.9 L837.3,788.9 L838.2,788.9 L839.1,788.9 L839.9,788.9 L840.7,789.9 L841.5,789.9" stroke-width="9.00"/></g>
<g stroke="#0505d2" fill="none" stroke-linejoin="round" stroke-linecap="round"><path d="M166.0,1178.0 L166.0,1177.0 L166.1,1175.7 L166.1,1174.2 L166.3,1172.4 L166.4,1170.6 L166.5,1168.7 L166.1,1166.8 L166.2,1165.0 L166.4,1163.6 L166.5,1162.1" stroke-width="7.74"/><path d="M166.5,1162.1 L167.0,1160.7 L167.2,1159.3 L167.4,1157.8 L167.6,1156.3 L167.5,1154.7 L167.7,1153.1 L168.0,1151.5 L168.3,1150.0 L169.1,1148.6 L169.5,1147.1" stroke-width="7.75"/><path d="M169.5,1147.1 L169.8,1145.5 L170.2,1143.9 L169.8,1142.2 L170.2,1140.5 L170.6,1138.9 L171.1,1137.4 L172.3,1136.0 L172.8,1134.6 L173.4,1133.1 L174.0,1131.7" stroke-width="7.89"/><path d="M174.0,1131.7 L174.6,1130.3 L175.3,1129.0 L176.1,1127.8 L177.0,1126.5 L178.0,1125.4 L178.9,1124.0 L179.7,1122.6 L180.7,1121.0 L181.5,1119.2 L182.0,1118.0" stroke-width="8.09"/><path d="M182.0,1118.0 L182.4,1116.7 L182.2,1115.1 L182.7,1113.7 L183.2,1112.3 L183.7,1110.8 L184.2,1109.4 L184.7,1107.8 L185.2,1106.3 L185.7,1104.7 L186.6,1103.3" stroke-width="7.92"/><path d="M186.6,1103.3 L187.1,1101.7 L187.6,1100.2 L188.2,1098.7 L188.4,1097.0 L189.0,1095.5 L189.6,1094.1 L190.2,1092.7 L190.9,1091.4 L191.6,1090.0 L192.3,1088.6" stroke-width="7.99"/><path d="M192.3,1088.6 L193.0,1087.2 L193.7,1085.8 L194.5,1084.4 L195.2,1083.1 L196.0,1081.7 L197.3,1080.7 L198.1,1079.3 L198.8,1077.9 L199.4,1076.5 L200.1,1075.1" stroke-width="8.06"/><path d="M200.1,1075.1 L200.7,1073.7 L201.2,1072.3 L201.8,1070.9 L202.3,1069.5 L202.8,1068.1 L203.2,1066.7 L203.7,1065.4 L203.6,1063.9 L204.1,1062.5 L204.5,1061.2" stroke-width="7.94"/><path d="M204.5,1061.2 L204.9,1059.8 L205.8,1058.5 L206.2,1057.1 L206.6,1055.6 L207.0,1054.0 L207.1,1052.3 L207.5,1050.6 L207.9,1048.8 L208.2,1047.5 L208.3,1046.2" stroke-width="7.85"/><path d="M208.3,1046.2 L208.6,1044.8 L208.9,1043.5 L209.2,1042.1 L209.7,1040.8 L210.0,1039.4 L210.3,1037.9 L210.6,1036.5 L210.9,1035.0 L211.2,1033.5 L211.5,1031.9" stroke-width="7.81"/><path d="M211.5,1031.9 L211.8,1030.4 L211.9,1028.8 L212.2,1027.2 L212.5,1025.6 L212.8,1023.9 L213.4,1022.3 L213.7,1020.7 L214.1,1019.0 L214.3,1017.2 L214.6,1015.5" stroke-width="7.79"/><path d="M214.6,1015.5 L214.9,1013.7 L215.2,1012.3 L215.6,1011.0 L215.8,1009.6 L216.1,1008.1 L216.3,1006.6 L216.9,1005.1 L217.1,1003.6 L217.4,1002.0 L217.7,1000.4" stroke-width="7.78"/><path d="M217.7,1000.4 L217.8,998.8 L218.1,997.2 L218.4,995.5 L218.7,993.9 L218.8,992.2 L219.1,990.6 L219.4,989.0 L219.6,987.3 L220.2,985.8 L220.5,984.1" stroke-width="7.77"/><path d="M220.5,984.1 L220.8,982.6 L221.0,981.0 L221.4,979.4 L221.6,977.9 L221.9,976.4 L222.1,974.9 L222.0,973.4 L222.3,972.0 L222.5,970.6 L222.7,969.3" stroke-width="7.76"/><path d="M222.7,969.3 L223.2,968.1 L223.4,966.8 L223.7,964.8 L223.4,962.8 L223.6,961.0 L223.9,959.2 L224.2,957.5 L224.4,955.9 L224.6,954.4 L224.7,952.9" stroke-width="7.73"/><path d="M224.7,952.9 L224.9,951.4 L225.1,950.0 L225.2,948.6 L225.3,947.2 L225.9,945.9 L226.1,944.5 L226.2,943.2 L226.4,941.8 L226.4,940.4 L226.6,939.0" stroke-width="7.71"/><path d="M226.6,939.0 L226.8,937.3 L227.0,935.6 L227.2,933.9 L227.4,932.3 L227.6,930.6 L227.7,929.0 L227.7,927.4 L227.8,925.8 L228.0,924.2 L228.3,922.7" stroke-width="7.72"/><path d="M228.3,922.7 L228.6,921.2 L228.9,919.8 L229.2,918.3 L229.6,917.0 L230.3,915.7 L230.9,914.1 L231.6,912.6 L232.3,911.2 L232.3,909.4 L233.0,908.0" stroke-width="7.93"/><path d="M233.0,908.0 L233.9,906.7 L234.7,905.4 L235.6,904.2 L236.4,902.9 L237.3,901.5 L238.1,900.2 L238.8,898.7 L239.6,897.4 L240.3,896.1 L241.0,894.9" stroke-width="8.12"/><path d="M241.0,894.9 L242.2,894.0 L242.9,892.8 L243.7,891.5 L244.4,890.2 L245.5,889.1 L246.2,887.6 L246.9,886.1 L247.4,884.3 L248.1,882.5 L248.7,880.5" stroke-width="8.04"/><path d="M248.7,880.5 L249.0,879.3 L249.4,878.1 L249.7,876.8 L250.1,875.5 L250.5,874.1 L250.9,872.6 L251.3,871.1 L251.6,869.6 L251.7,868.0 L252.1,866.4" stroke-width="7.85"/><path d="M252.1,866.4 L252.4,864.8 L252.8,863.2 L253.7,861.7 L254.0,860.1 L254.4,858.5 L254.7,856.9 L254.6,855.3 L254.9,853.7 L255.3,852.2 L255.6,850.7" stroke-width="7.81"/><path d="M255.6,850.7 L255.8,849.3 L256.1,847.9 L256.4,846.6 L256.7,845.4 L257.2,843.6 L257.6,841.8 L257.9,840.2 L258.6,838.6 L258.9,837.0 L259.2,835.5" stroke-width="7.81"/><path d="M259.2,835.5 L259.5,834.0 L259.5,832.5 L259.8,831.1 L260.1,829.7 L260.4,828.4 L261.2,827.2 L261.6,825.9 L262.1,824.6 L262.6,823.4 L262.5,821.9" stroke-width="7.87"/><path d="M262.5,821.9 L263.2,820.4 L264.0,818.9 L264.9,817.5 L265.8,816.0 L266.7,814.6 L267.3,813.0 L268.2,811.6 L269.2,810.4 L270.1,809.2 L272.0,808.8" stroke-width="8.15"/><path d="M272.0,808.8 L273.0,807.8 L273.9,806.9 L274.8,806.1 L276.1,804.9 L277.3,804.1 L278.5,803.6 L279.8,803.3 L280.9,802.3 L282.4,802.0 L284.1,801.6" stroke-width="8.45"/><path d="M284.1,801.6 L285.8,800.3 L287.0,799.9 L288.2,799.4 L289.6,799.0 L291.2,799.2 L292.7,798.7 L294.2,798.2 L295.7,797.6 L297.2,796.9 L298.8,796.4" stroke-width="8.55"/><path d="M298.8,796.4 L300.5,795.9 L302.4,796.2 L304.0,795.7 L305.7,795.1 L307.4,794.8 L308.8,794.4 L310.3,793.9 L311.8,793.5 L313.2,792.7 L314.7,792.3" stroke-width="8.56"/><path d="M314.7,792.3 L316.3,791.9 L317.9,791.4 L319.2,790.1 L320.8,789.7 L322.4,789.3 L324.0,788.8 L325.4,788.0 L326.9,787.5 L328.4,787.1 L329.9,786.7" stroke-width="8.56"/><path d="M329.9,786.7 L331.8,787.9 L333.2,787.5 L334.9,787.1 L336.5,786.6 L338.1,786.2 L339.7,785.8 L341.3,785.3 L342.8,784.9 L343.9,783.0 L345.4,782.6" stroke-width="8.56"/><path d="M345.4,782.6 L346.9,782.1 L348.3,781.7 L349.9,782.0 L351.3,781.6 L352.7,781.3 L354.0,781.0 L355.6,780.6 L357.1,780.3 L358.4,780.0 L359.7,779.7" stroke-width="8.57"/><path d="M359.7,779.7 L361.1,780.4 L362.4,780.2 L363.7,780.0 L365.1,779.8 L366.5,777.8 L368.3,777.6 L370.3,777.5 L371.5,777.4 L372.7,777.4 L373.9,777.3" stroke-width="8.59"/><path d="M373.9,777.3 L375.1,777.2 L376.3,777.2 L377.5,777.1 L378.9,778.6 L380.2,778.6 L381.5,778.5 L382.9,778.5 L384.3,777.9 L385.8,777.9 L387.4,777.8" stroke-width="8.60"/><path d="M387.4,777.8 L389.1,777.8 L390.8,777.6 L392.6,777.6 L394.5,777.6 L396.5,778.3 L398.7,778.3 L400.9,778.4 L402.1,778.0 L403.3,778.0 L404.5,778.1" stroke-width="8.60"/><path d="M404.5,778.1 L405.8,778.1 L407.1,778.2 L408.4,778.4 L409.7,778.4 L411.1,778.5 L412.5,778.5 L414.0,777.7 L415.5,777.8 L417.0,777.8 L418.5,777.9" stroke-width="8.60"/><path d="M418.5,777.9 L420.0,777.6 L421.6,777.7 L423.1,777.8 L424.7,777.8 L426.3,777.8 L427.9,777.8 L429.5,777.9 L431.1,778.0 L432.7,778.7 L434.4,778.8" stroke-width="8.60"/><path d="M434.4,778.8 L436.0,778.8 L437.6,778.9 L439.3,779.6 L440.9,779.7 L442.6,779.8 L444.2,779.9 L445.9,779.4 L447.5,779.5 L449.2,779.5 L450.8,779.6" stroke-width="8.60"/><path d="M450.8,779.6 L452.4,779.6 L454.0,779.7 L455.6,779.7 L457.2,779.8 L458.7,780.4 L460.3,780.5 L461.8,780.5 L463.3,780.6 L464.8,780.8 L466.3,780.9" stroke-width="8.60"/><path d="M466.3,780.9 L467.8,780.9 L469.3,781.0 L470.8,780.8 L472.2,780.9 L473.7,781.0 L475.2,781.0 L476.6,780.5 L478.1,780.6 L479.5,780.6 L481.0,780.7" stroke-width="8.60"/><path d="M481.0,780.7 L482.4,781.7 L483.9,781.8 L485.3,781.9 L486.8,781.9 L488.2,781.9 L489.7,782.0 L491.1,782.0 L492.6,782.1 L494.1,782.3 L495.6,782.4" stroke-width="8.60"/><path d="M495.6,782.4 L497.1,782.4 L498.6,782.5 L500.1,782.5 L501.6,782.6 L503.1,782.6 L504.7,782.7 L506.3,781.0 L507.8,781.0 L509.4,781.1 L511.0,781.1" stroke-width="8.60"/><path d="M511.0,781.1 L512.6,782.5 L514.2,782.5 L515.8,782.6 L517.5,782.6 L519.2,782.0 L520.9,782.1 L522.6,782.1 L523.9,782.1 L525.2,782.2 L526.5,782.3" stroke-width="8.60"/><path d="M526.5,782.3 L527.7,782.3 L528.8,782.3 L529.9,782.3 L531.0,782.6 L532.1,782.7 L533.2,782.7 L534.2,782.7 L535.2,782.7 L536.2,782.0 L537.2,782.0" stroke-width="8.60"/><path d="M537.2,782.0 L538.2,782.0 L539.2,782.0 L540.1,782.1 L541.1,782.1 L542.1,782.3 L543.1,782.3 L544.1,782.3 L545.1,782.4 L546.2,782.4 L547.2,783.9" stroke-width="8.60"/><path d="M547.2,783.9 L548.3,783.9 L549.4,783.9 L550.6,783.9 L551.8,783.9 L553.0,782.6 L554.3,782.7 L555.6,782.7 L557.0,782.7 L558.4,783.9 L559.9,783.9" stroke-width="8.60"/><path d="M559.9,783.9 L561.4,783.9 L563.0,783.9 L564.7,783.5 L566.4,783.5 L568.3,783.5 L570.2,782.8 L572.1,782.8 L574.2,782.9 L576.3,782.9 L578.5,782.9" stroke-width="8.60"/><path d="M578.5,782.9 L580.9,782.9 L583.3,783.5 L585.8,783.6 L588.4,783.8 L591.1,783.8 L594.0,783.1 L596.9,783.1 L600.0,782.6 L601.0,782.6 L602.0,782.6" stroke-width="8.60"/><path d="M602.0,782.6 L603.1,782.7 L604.1,782.7 L605.2,782.9 L606.3,782.9 L607.5,782.9 L608.6,782.9 L609.8,782.9 L610.9,784.3 L612.2,784.3 L613.4,784.4" stroke-width="8.60"/><path d="M613.4,784.4 L614.6,784.4 L615.9,784.4 L617.2,784.1 L618.5,784.1 L619.8,784.2 L621.1,784.2 L622.5,782.9 L623.8,783.0 L625.2,783.0 L626.6,783.0" stroke-width="8.60"/><path d="M626.6,783.0 L628.0,784.5 L629.4,784.5 L630.9,784.5 L632.3,784.5 L633.8,784.0 L635.3,784.0 L636.8,784.0 L638.3,784.0 L639.8,783.6 L641.4,783.6" stroke-width="8.60"/><path d="M641.4,783.6 L642.9,783.6 L644.5,783.6 L646.0,784.8 L647.6,784.8 L649.2,784.8 L650.8,784.8 L652.5,783.3 L654.1,783.3 L655.7,783.3 L657.4,783.3" stroke-width="8.60"/><path d="M657.4,783.3 L659.0,783.3 L660.7,783.3 L662.4,783.3 L664.1,783.8 L665.8,783.8 L667.5,783.9 L669.2,784.7 L670.9,784.7 L672.6,784.7 L674.4,784.3" stroke-width="8.60"/><path d="M674.4,784.3 L676.1,784.3 L677.9,784.4 L679.6,784.3 L681.4,784.3 L683.2,784.3 L684.9,785.1 L686.7,785.2 L688.5,785.2 L690.3,784.2 L692.1,784.2" stroke-width="8.60"/><path d="M692.1,784.2 L693.9,784.2 L695.7,785.0 L697.5,785.0 L699.3,785.0 L701.1,783.5 L702.9,783.5 L704.7,783.5 L706.5,785.1 L708.3,785.1 L710.1,785.1" stroke-width="8.60"/><path d="M710.1,785.1 L712.0,783.9 L713.8,783.9 L715.6,783.9 L717.4,785.0 L719.2,785.0 L721.0,785.0 L722.9,785.4 L724.7,785.4 L726.5,785.4 L728.3,785.1" stroke-width="8.60"/><path d="M728.3,785.1 L730.1,785.1 L731.9,785.1 L733.7,785.0 L735.5,785.0 L737.3,785.0 L739.1,784.9 L740.9,785.0 L742.7,785.0 L744.5,785.4 L746.3,785.4" stroke-width="8.60"/><path d="M746.3,785.4 L748.1,785.4 L749.8,784.7 L751.6,784.7 L753.4,784.7 L755.1,784.5 L756.9,784.5 L758.6,784.5 L760.3,785.2 L762.1,785.2 L763.8,785.2" stroke-width="8.60"/><path d="M763.8,785.2 L765.5,785.1 L767.2,785.1 L768.9,785.2 L770.6,784.4 L772.3,784.4 L773.9,784.4 L775.6,785.2 L777.2,785.3 L778.9,785.3 L780.5,785.3" stroke-width="8.60"/><path d="M780.5,785.3 L782.1,785.2 L783.7,785.2 L785.3,785.2 L786.9,785.2 L788.5,784.6 L790.0,784.6 L791.6,784.6 L793.1,784.7 L794.6,785.8 L796.1,785.8" stroke-width="8.60"/><path d="M796.1,785.8 L797.6,785.8 L799.1,785.8 L800.6,786.0 L802.0,786.0 L803.5,786.0 L804.9,786.0 L806.3,785.1 L807.7,785.2 L809.1,785.2 L810.4,785.2" stroke-width="8.60"/><path d="M810.4,785.2 L811.8,786.3 L813.1,786.3 L814.4,786.3 L815.7,786.3 L817.0,786.5 L818.2,786.6 L819.5,786.6 L820.7,786.6 L821.9,786.6 L823.1,786.0" stroke-width="8.60"/><path d="M823.1,786.0 L824.2,786.0 L825.4,786.0 L826.5,786.0 L827.6,786.0 L828.7,785.5 L829.7,785.5 L830.8,785.5 L831.8,785.5 L832.8,785.5 L833.8,785.3" stroke-width="8.60"/><path d="M833.8,785.3 L834.7,785.3 L835.7,785.3 L836.6,785.3 L837.4,785.3 L838.3,785.3 L839.1,785.0 L840.0,785.0 L840.7,785.1 L841.5,785.1" stroke-width="8.60"/></g>
<g stroke="#0c6e1e" fill="none" stroke-linejoin="round" stroke-linecap="round"><path d="M171.0,1188.0 L171.0,1187.1 L171.0,1186.0 L171.1,1184.7 L171.1,1183.2 L171.1,1181.6 L171.1,1179.9 L171.2,1178.1 L171.3,1176.4 L171.3,1174.6 L171.4,1173.0" stroke-width="6.64"/><path d="M171.4,1173.0 L171.4,1171.4 L171.5,1170.0 L171.5,1168.2 L171.6,1166.5 L171.7,1164.8 L171.8,1163.1 L171.9,1161.6 L172.0,1160.0 L172.1,1158.6 L172.2,1157.2" stroke-width="6.42"/><path d="M172.2,1157.2 L172.3,1156.0 L172.5,1154.3 L172.9,1153.3 L173.2,1152.3 L173.5,1150.9 L174.0,1148.5 L173.9,1147.4 L174.2,1146.2 L174.4,1144.9 L174.7,1143.5" stroke-width="6.88"/><path d="M174.7,1143.5 L175.3,1142.1 L175.5,1140.5 L175.9,1138.9 L176.2,1137.3 L176.0,1135.5 L176.3,1133.8 L176.7,1132.1 L177.3,1130.5 L177.7,1128.8 L178.1,1127.2" stroke-width="6.99"/><path d="M178.1,1127.2 L178.5,1125.6 L178.9,1124.2 L179.4,1122.8 L179.8,1121.4 L180.3,1119.9 L180.6,1118.4 L181.0,1117.0 L181.5,1115.5 L182.1,1114.1 L183.2,1112.9" stroke-width="7.36"/><path d="M183.2,1112.9 L183.7,1111.5 L184.2,1110.0 L184.8,1108.6 L184.8,1107.0 L185.3,1105.6 L185.8,1104.2 L186.3,1102.7 L187.3,1101.5 L187.8,1100.0 L188.3,1098.5" stroke-width="7.45"/><path d="M188.3,1098.5 L188.8,1097.0 L189.5,1095.6 L190.0,1094.1 L190.5,1092.6 L191.0,1091.1 L190.7,1089.3 L191.2,1087.9 L191.7,1086.5 L192.1,1085.1 L193.2,1083.9" stroke-width="7.39"/><path d="M193.2,1083.9 L193.6,1082.6 L194.0,1081.3 L194.4,1080.1 L194.8,1078.3 L195.3,1076.6 L195.8,1075.0 L196.2,1073.6 L196.4,1072.1 L196.8,1070.8 L197.1,1069.4" stroke-width="7.25"/><path d="M197.1,1069.4 L197.4,1068.0 L197.2,1066.4 L197.6,1064.9 L197.9,1063.5 L198.2,1062.3 L198.9,1061.2 L199.3,1060.0 L199.6,1058.8 L199.9,1057.5 L200.3,1056.2" stroke-width="7.11"/><path d="M200.3,1056.2 L200.6,1054.6 L200.9,1052.9 L201.0,1051.0 L201.3,1048.8 L201.4,1047.6 L201.5,1046.5 L201.6,1045.2 L201.8,1043.9 L201.9,1042.6 L202.0,1041.3" stroke-width="6.70"/><path d="M202.0,1041.3 L202.2,1039.9 L202.3,1038.4 L202.5,1037.0 L202.6,1035.5 L202.7,1033.9 L202.8,1032.4 L202.9,1030.8 L203.1,1029.2 L203.5,1027.5 L203.6,1025.9" stroke-width="6.51"/><path d="M203.6,1025.9 L203.8,1024.2 L203.6,1022.5 L203.8,1020.7 L203.9,1019.0 L204.1,1017.2 L204.2,1015.5 L204.4,1013.7 L204.5,1012.4 L204.7,1011.0 L204.8,1009.6" stroke-width="6.49"/><path d="M204.8,1009.6 L204.9,1008.2 L205.0,1006.7 L205.3,1005.2 L205.4,1003.7 L205.6,1002.2 L205.7,1000.7 L205.4,999.1 L205.5,997.5 L205.6,995.9 L205.7,994.3" stroke-width="6.48"/><path d="M205.7,994.3 L205.7,992.7 L205.8,991.1 L205.9,989.5 L206.0,987.9 L206.7,986.4 L206.8,984.8 L207.0,983.2 L207.1,981.6 L207.1,980.0 L207.2,978.5" stroke-width="6.48"/><path d="M207.2,978.5 L207.3,977.0 L207.4,975.4 L207.5,973.9 L207.6,972.5 L207.8,971.0 L207.9,969.6 L207.8,968.2 L207.9,966.8 L208.1,965.1 L208.2,963.3" stroke-width="6.49"/><path d="M208.2,963.3 L208.1,961.6 L208.3,959.9 L208.4,958.3 L208.5,956.6 L208.6,955.0 L208.7,953.4 L208.8,951.8 L209.1,950.2 L209.2,948.6 L209.3,947.1" stroke-width="6.50"/><path d="M209.3,947.1 L209.4,945.6 L209.7,944.1 L209.8,942.6 L209.9,941.1 L210.0,939.6 L209.9,938.2 L210.0,936.8 L210.2,935.4 L210.3,934.0 L210.9,932.7" stroke-width="6.54"/><path d="M210.9,932.7 L211.0,931.3 L211.1,930.0 L211.3,928.2 L211.5,926.4 L211.7,924.7 L211.9,923.0 L211.6,921.2 L211.8,919.6 L212.0,918.0 L212.2,916.5" stroke-width="6.62"/><path d="M212.2,916.5 L213.0,915.0 L213.2,913.5 L213.4,912.1 L213.6,910.7 L213.6,909.2 L213.8,907.9 L214.1,906.6 L214.4,905.3 L215.1,904.1 L215.6,902.2" stroke-width="6.91"/><path d="M215.6,902.2 L216.2,900.5 L216.3,898.7 L217.0,897.1 L217.6,895.6 L218.3,894.1 L219.4,892.9 L220.1,891.6 L220.7,890.3 L221.4,889.0 L221.6,887.5" stroke-width="7.74"/><path d="M221.6,887.5 L222.4,886.1 L223.3,884.9 L224.1,883.9 L225.1,883.1 L226.0,882.1 L226.8,881.0 L227.5,879.6 L228.1,877.9 L228.8,875.8 L229.1,874.7" stroke-width="8.07"/><path d="M229.1,874.7 L229.4,873.5 L229.2,872.2 L229.5,870.9 L229.8,869.6 L230.0,868.1 L230.4,866.7 L230.6,865.2 L230.8,863.6 L231.0,862.0 L231.3,860.4" stroke-width="6.86"/><path d="M231.3,860.4 L231.5,858.8 L231.8,857.1 L232.1,855.4 L232.3,853.8 L232.5,852.1 L232.7,850.4 L232.9,848.7 L233.2,847.0 L233.5,845.4 L233.7,844.0" stroke-width="6.70"/><path d="M233.7,844.0 L233.9,842.5 L234.1,841.0 L234.4,839.4 L234.6,837.9 L234.8,836.3 L234.9,834.7 L234.9,833.1 L235.1,831.5 L235.3,829.8 L235.5,828.2" stroke-width="6.65"/><path d="M235.5,828.2 L235.6,826.6 L235.8,825.0 L236.0,823.4 L236.2,821.8 L236.5,820.3 L236.7,818.7 L236.9,817.2 L237.2,815.8 L237.7,814.4 L238.0,813.0" stroke-width="6.71"/><path d="M238.0,813.0 L238.2,811.7 L238.5,810.4 L238.7,808.5 L239.1,806.8 L239.5,805.0 L239.8,803.3 L240.2,801.7 L240.7,800.1 L241.1,798.5 L241.7,797.0" stroke-width="7.08"/><path d="M241.7,797.0 L242.2,795.6 L242.7,794.2 L243.2,792.8 L243.0,791.3 L243.5,790.0 L243.9,788.9 L244.4,787.7 L244.9,786.6 L245.6,784.7 L246.4,783.1" stroke-width="7.63"/><path d="M246.4,783.1 L247.2,781.8 L248.1,780.6 L249.0,779.5 L250.1,778.6 L251.4,777.7 L253.0,776.7 L254.1,776.2 L255.4,775.6 L256.8,775.0 L258.2,774.5" stroke-width="9.22"/><path d="M258.2,774.5 L259.7,773.8 L261.2,773.3 L262.8,772.9 L264.4,772.4 L266.3,773.4 L267.9,773.0 L269.4,772.6 L270.8,772.3 L272.3,772.5 L274.0,772.0" stroke-width="9.85"/><path d="M274.0,772.0 L275.4,771.6 L276.8,771.2 L277.5,769.0 L278.8,768.7 L280.2,768.3 L281.8,767.9 L283.9,768.9 L286.1,768.4 L287.2,768.2 L288.5,768.0" stroke-width="9.89"/><path d="M288.5,768.0 L289.9,768.3 L291.2,768.1 L292.7,767.8 L294.1,767.6 L295.6,766.9 L297.1,766.6 L298.7,766.4 L300.3,766.1 L301.6,764.4 L303.2,764.2" stroke-width="9.94"/><path d="M303.2,764.2 L304.9,763.9 L306.5,763.7 L308.2,764.6 L309.8,764.3 L311.3,764.1 L312.8,763.9 L314.1,762.8 L315.7,762.6 L317.3,762.4 L318.8,762.3" stroke-width="9.97"/><path d="M318.8,762.3 L320.3,762.0 L321.8,761.8 L323.2,761.7 L324.7,761.6 L326.1,761.1 L327.6,761.0 L329.1,760.9 L330.6,760.7 L332.2,761.9 L333.7,761.7" stroke-width="9.99"/><path d="M333.7,761.7 L335.2,761.6 L336.8,761.4 L338.5,762.2 L340.1,762.0 L341.5,761.8 L342.9,761.6 L343.9,759.5 L345.1,759.2 L346.4,759.0 L347.6,758.7" stroke-width="9.96"/><path d="M347.6,758.7 L348.9,758.6 L350.2,758.3 L351.5,758.0 L352.8,757.7 L354.3,758.0 L355.8,757.8 L357.3,757.5 L358.9,757.3 L360.4,756.2 L362.2,756.0" stroke-width="9.94"/><path d="M362.2,756.0 L364.0,755.8 L366.1,756.7 L368.2,756.5 L370.4,756.4 L371.6,757.0 L372.8,757.0 L374.0,756.9 L375.3,756.9 L376.6,756.9 L377.9,756.2" stroke-width="9.99"/><path d="M377.9,756.2 L379.2,756.2 L380.6,756.2 L382.0,756.2 L383.5,755.2 L385.0,755.2 L386.4,755.2 L387.9,755.3 L389.5,755.3 L391.0,755.3 L392.6,755.3" stroke-width="10.00"/><path d="M392.6,755.3 L394.2,755.3 L395.7,755.8 L397.3,755.8 L399.0,755.8 L400.6,755.9 L402.2,757.0 L403.8,757.1 L405.5,757.1 L407.1,757.1 L408.7,757.8" stroke-width="10.00"/><path d="M408.7,757.8 L410.4,757.8 L412.0,757.9 L413.7,757.9 L415.4,756.9 L417.0,757.0 L418.6,757.0 L420.3,757.0 L421.9,756.1 L423.5,756.1 L425.1,756.1" stroke-width="10.00"/><path d="M425.1,756.1 L426.7,756.1 L428.2,756.4 L429.8,756.4 L431.3,756.4 L432.8,756.4 L434.3,756.9 L435.9,756.9 L437.4,756.9 L438.9,756.9 L440.4,756.1" stroke-width="10.00"/><path d="M440.4,756.1 L441.9,756.1 L443.4,756.1 L445.0,756.1 L446.5,756.1 L448.0,756.1 L449.5,756.1 L451.0,756.1 L452.5,756.8 L454.1,756.8 L455.6,756.8" stroke-width="10.00"/><path d="M455.6,756.8 L457.1,756.7 L458.6,757.7 L460.1,757.7 L461.6,757.7 L463.2,757.6 L464.7,756.2 L466.2,756.1 L467.7,756.1 L469.2,756.1 L470.8,757.6" stroke-width="10.00"/><path d="M470.8,757.6 L472.3,757.6 L473.8,757.6 L475.3,757.6 L476.9,757.5 L478.4,757.5 L479.9,757.5 L481.4,757.5 L483.0,756.4 L484.5,756.4 L486.0,756.4" stroke-width="10.00"/><path d="M486.0,756.4 L487.6,756.4 L489.1,755.9 L490.7,755.8 L492.2,755.8 L493.7,755.8 L495.3,755.7 L496.8,755.7 L498.5,755.7 L500.1,755.7 L501.7,756.9" stroke-width="10.00"/><path d="M501.7,756.9 L503.4,756.9 L505.0,756.9 L506.7,757.3 L508.4,757.3 L510.1,757.4 L511.8,757.5 L513.5,757.5 L515.3,757.5 L517.0,755.9 L518.7,756.0" stroke-width="10.00"/><path d="M518.7,756.0 L520.4,756.0 L522.1,756.5 L523.8,756.5 L525.5,756.6 L527.2,755.6 L528.9,755.6 L530.5,755.6 L532.1,755.6 L533.7,756.3 L535.3,756.3" stroke-width="10.00"/><path d="M535.3,756.3 L536.9,756.3 L538.4,756.3 L539.9,756.3 L541.4,756.3 L542.8,756.3 L544.2,756.3 L545.6,755.9 L546.9,755.9 L548.2,755.8 L549.5,755.8" stroke-width="10.00"/><path d="M549.5,755.8 L550.7,755.7 L551.8,755.6 L552.9,755.6 L554.0,755.5 L554.9,755.5 L558.2,757.4 L560.6,757.1 L562.2,756.6 L563.4,756.0 L563.4,754.2" stroke-width="9.86"/><path d="M563.4,754.2 L564.0,753.8 L564.7,753.2 L565.6,752.7 L567.0,752.2 L569.2,752.3 L572.0,752.0 L573.0,751.9 L574.1,751.9 L575.2,751.9 L576.4,751.8" stroke-width="9.76"/><path d="M576.4,751.8 L577.6,751.8 L578.9,751.7 L580.2,751.6 L581.5,751.4 L582.9,751.4 L584.3,751.4 L585.8,751.3 L587.2,751.6 L588.8,751.5 L590.3,751.5" stroke-width="10.00"/><path d="M590.3,751.5 L591.9,751.5 L593.4,751.2 L595.1,751.2 L596.7,751.2 L598.3,751.2 L600.0,751.1 L601.6,751.1 L603.3,751.1 L605.0,750.1 L606.7,750.1" stroke-width="10.00"/><path d="M606.7,750.1 L608.4,750.0 L610.1,751.4 L611.8,751.4 L613.4,751.3 L615.1,751.4 L616.8,751.4 L618.4,751.4 L620.1,751.4 L621.7,751.5 L623.3,751.5" stroke-width="10.00"/><path d="M623.3,751.5 L624.9,751.5 L626.5,751.5 L628.0,750.6 L629.5,750.6 L631.0,750.6 L632.6,750.6 L634.2,750.9 L635.8,750.9 L637.4,750.9 L639.1,750.9" stroke-width="10.00"/><path d="M639.1,750.9 L640.8,751.8 L642.4,751.8 L644.1,751.8 L645.8,751.6 L647.5,751.6 L649.2,751.6 L650.9,750.0 L652.7,750.0 L654.4,750.0 L656.0,750.7" stroke-width="10.00"/><path d="M656.0,750.7 L657.7,750.7 L659.4,750.8 L661.0,750.8 L662.7,750.4 L664.3,750.4 L665.9,750.5 L667.4,750.5 L668.9,751.8 L670.4,751.9 L671.9,751.9" stroke-width="10.00"/><path d="M671.9,751.9 L673.3,751.9 L674.7,751.2 L676.1,751.3 L677.4,751.3 L678.6,751.4 L679.8,751.4 L681.0,751.5 L682.1,751.5 L683.1,751.6 L684.1,751.7" stroke-width="10.00"/><path d="M684.1,751.7 L685.1,751.3 L688.5,751.9 L689.7,753.0 L689.1,753.9 L688.5,754.7 L688.6,755.3 L690.5,755.9 L695.0,757.0 L695.9,757.1 L696.8,757.1" stroke-width="9.30"/><path d="M696.8,757.1 L697.8,757.2 L698.8,757.2 L699.9,757.2 L701.1,757.1 L702.3,757.1 L703.5,757.1 L704.7,757.2 L706.0,757.2 L707.4,756.2 L708.8,756.2" stroke-width="10.00"/><path d="M708.8,756.2 L710.2,756.3 L711.6,756.3 L713.1,756.7 L714.6,756.7 L716.2,756.7 L717.7,756.8 L719.3,757.3 L720.9,757.3 L722.5,757.3 L724.2,757.3" stroke-width="10.00"/><path d="M724.2,757.3 L725.8,756.0 L727.5,756.0 L729.2,756.0 L730.9,758.0 L732.6,758.0 L734.4,758.0 L736.1,755.9 L737.8,755.9 L739.6,755.9 L741.3,757.4" stroke-width="10.00"/><path d="M741.3,757.4 L743.1,757.4 L744.8,757.4 L746.5,756.2 L748.3,756.2 L750.0,756.2 L751.7,758.1 L753.4,758.1 L755.1,758.1 L756.8,757.5 L758.5,757.5" stroke-width="10.00"/><path d="M758.5,757.5 L760.1,757.5 L761.7,757.5 L763.4,756.3 L764.9,756.3 L766.5,756.3 L768.1,756.3 L769.6,757.0 L771.0,757.0 L772.5,757.0 L774.1,757.0" stroke-width="10.00"/><path d="M774.1,757.0 L775.7,757.8 L777.4,757.8 L779.0,757.8 L780.7,757.8 L782.4,757.8 L784.1,757.8 L785.9,757.8 L787.6,757.3 L789.3,757.3 L791.1,757.3" stroke-width="10.00"/><path d="M791.1,757.3 L792.8,757.3 L794.6,757.2 L796.4,757.2 L798.1,757.5 L799.9,757.5 L801.6,757.4 L803.3,757.9 L805.1,757.8 L806.8,757.8 L808.5,756.8" stroke-width="10.00"/><path d="M808.5,756.8 L810.2,756.8 L811.8,756.8 L813.5,757.0 L815.1,757.0 L816.7,757.0 L818.3,757.0 L819.9,757.4 L821.4,757.4 L822.9,757.4 L824.4,757.4" stroke-width="10.00"/><path d="M824.4,757.4 L825.9,756.7 L827.3,756.7 L828.6,756.6 L830.0,756.6 L831.2,755.9 L832.5,755.9 L833.7,755.9 L834.9,755.9 L836.0,755.9 L837.0,756.7" stroke-width="10.00"/><path d="M837.0,756.7 L838.0,756.7 L839.0,756.7 L839.9,756.7 L840.7,756.7 L841.5,756.7" stroke-width="10.00"/></g>
<rect x="165.5" y="1153" width="10" height="37" fill="#0c6e1e"/>
<g stroke="#ee0a0a" fill="none" stroke-linejoin="round" stroke-linecap="round"><path d="M168.0,1176.0 L168.0,1175.1 L168.0,1173.9 L167.9,1172.4 L167.9,1170.8 L167.9,1169.1 L167.9,1167.3 L168.0,1165.5 L168.1,1163.7 L168.2,1162.3 L168.3,1161.0" stroke-width="4.64"/><path d="M168.3,1161.0 L168.5,1159.6 L168.6,1158.2 L168.7,1156.8 L168.9,1155.3 L168.8,1153.7 L169.0,1152.1 L169.3,1150.3 L169.7,1148.5 L169.9,1147.2 L170.1,1145.9" stroke-width="4.63"/><path d="M170.1,1145.9 L170.3,1144.4 L170.5,1143.0 L170.7,1141.5 L171.0,1139.9 L171.2,1138.4 L171.5,1136.8 L171.7,1135.2 L172.0,1133.6 L172.3,1132.0 L172.3,1130.4" stroke-width="4.72"/><path d="M172.3,1130.4 L172.6,1128.8 L172.9,1127.2 L173.2,1125.7 L173.5,1124.1 L173.8,1122.6 L174.1,1121.0 L174.5,1119.5 L175.0,1118.0 L175.4,1116.4 L175.7,1114.9" stroke-width="4.81"/><path d="M175.7,1114.9 L176.1,1113.3 L176.6,1111.8 L177.0,1110.3 L177.4,1108.8 L177.7,1107.3 L177.9,1105.7 L178.2,1104.2 L178.6,1102.8 L178.9,1101.2 L179.5,1099.7" stroke-width="4.87"/><path d="M179.5,1099.7 L179.9,1098.2 L180.3,1096.7 L180.6,1095.2 L180.9,1093.7 L181.3,1092.3 L181.7,1090.8 L182.1,1089.4 L182.8,1088.0 L183.1,1086.5 L183.5,1085.0" stroke-width="4.90"/><path d="M183.5,1085.0 L183.8,1083.5 L184.2,1082.1 L184.5,1080.6 L184.8,1079.2 L185.1,1077.9 L185.0,1076.6 L185.3,1075.4 L185.5,1074.2 L185.7,1072.9 L186.2,1071.6" stroke-width="4.79"/><path d="M186.2,1071.6 L186.5,1070.1 L186.8,1068.5 L187.1,1066.8 L187.0,1064.9 L187.4,1062.8 L187.8,1060.5 L188.4,1059.4 L188.6,1058.2 L188.8,1057.0 L189.1,1055.7" stroke-width="4.77"/><path d="M189.1,1055.7 L189.4,1054.4 L189.7,1053.1 L190.0,1051.7 L190.2,1050.3 L190.2,1048.7 L190.5,1047.2 L190.8,1045.7 L191.1,1044.2 L191.7,1042.7 L192.0,1041.1" stroke-width="4.80"/><path d="M192.0,1041.1 L192.4,1039.5 L192.7,1037.9 L192.9,1036.3 L193.3,1034.6 L193.6,1033.0 L194.1,1031.4 L194.4,1029.7 L194.7,1028.1 L194.7,1026.4 L195.0,1024.7" stroke-width="4.78"/><path d="M195.0,1024.7 L195.2,1023.1 L195.5,1021.5 L195.9,1019.9 L196.2,1018.3 L196.5,1016.8 L196.7,1015.2 L197.1,1013.7 L197.3,1012.2 L197.5,1010.7 L197.7,1009.1" stroke-width="4.71"/><path d="M197.7,1009.1 L197.8,1007.5 L198.0,1005.9 L198.1,1004.3 L198.3,1002.7 L198.4,1001.1 L198.5,999.5 L198.7,997.9 L198.9,996.3 L198.9,994.7 L199.1,993.0" stroke-width="4.61"/><path d="M199.1,993.0 L199.2,991.4 L199.4,989.8 L199.8,988.3 L200.0,986.7 L200.1,985.1 L200.2,983.6 L200.2,982.0 L200.3,980.5 L200.4,979.0 L200.5,977.5" stroke-width="4.57"/><path d="M200.5,977.5 L200.8,976.1 L201.0,974.7 L201.1,973.3 L201.2,971.9 L201.0,970.6 L201.1,969.3 L201.2,968.0 L201.3,966.8 L201.7,964.8 L201.8,962.8" stroke-width="4.56"/><path d="M201.8,962.8 L202.0,960.9 L202.1,959.0 L202.2,957.2 L202.3,955.5 L202.4,953.9 L202.5,952.3 L202.6,950.7 L202.7,949.2 L202.4,947.7 L202.5,946.4" stroke-width="4.51"/><path d="M202.5,946.4 L202.6,945.0 L202.6,943.7 L202.8,942.5 L202.8,941.3 L202.9,940.1 L203.0,939.0 L203.0,936.6 L203.0,934.8 L203.1,933.5 L203.1,932.3" stroke-width="4.48"/><path d="M203.1,932.3 L203.4,931.1 L203.5,929.5 L203.6,927.4 L203.7,926.2 L203.6,924.9 L203.7,923.5 L203.8,922.0 L203.8,920.5 L204.1,918.9 L204.2,917.3" stroke-width="4.51"/><path d="M204.2,917.3 L204.3,915.6 L204.5,913.9 L204.4,912.2 L204.5,910.6 L204.7,908.9 L205.1,907.2 L205.3,905.6 L205.5,904.0 L205.8,902.5 L206.1,901.0" stroke-width="4.63"/><path d="M206.1,901.0 L206.4,899.5 L206.8,897.9 L207.1,896.3 L207.2,894.6 L207.5,893.1 L207.9,891.5 L208.3,889.9 L208.9,888.5 L209.3,887.0 L209.7,885.6" stroke-width="4.87"/><path d="M209.7,885.6 L210.1,884.2 L210.7,883.0 L211.1,881.7 L211.5,880.6 L212.2,878.7 L212.7,877.0 L213.4,875.8 L214.2,874.7 L214.9,873.5 L215.5,872.2" stroke-width="5.20"/><path d="M215.5,872.2 L216.2,870.7 L216.9,868.8 L217.2,867.5 L217.6,866.2 L217.9,864.8 L218.3,863.4 L218.9,861.9 L219.2,860.3 L219.6,858.7 L219.9,857.0" stroke-width="4.93"/><path d="M219.9,857.0 L219.9,855.3 L220.2,853.6 L220.5,851.9 L221.0,850.3 L221.3,848.6 L221.5,847.0 L221.7,845.4 L221.9,843.8 L222.1,842.3 L222.3,840.7" stroke-width="4.70"/><path d="M222.3,840.7 L222.4,839.2 L222.5,837.6 L222.6,836.0 L222.7,834.5 L222.8,832.9 L222.8,831.4 L222.9,829.8 L223.0,828.2 L223.1,826.7 L223.4,825.1" stroke-width="4.54"/><path d="M223.4,825.1 L223.5,823.6 L223.7,822.0 L223.8,820.4 L224.1,818.8 L224.2,817.1 L224.4,815.4 L224.3,813.6 L224.4,811.9 L224.6,810.2 L224.8,808.5" stroke-width="4.58"/><path d="M224.8,808.5 L224.9,806.9 L225.1,805.3 L225.3,803.8 L225.8,802.3 L226.1,801.0 L226.3,799.7 L226.6,798.6 L227.1,796.4 L227.7,794.7 L228.5,793.4" stroke-width="4.86"/><path d="M228.5,793.4 L229.3,792.2 L229.9,791.0 L231.0,789.9 L232.1,788.8 L233.2,787.9 L234.1,786.8 L235.3,786.0 L236.5,785.2 L237.9,784.4 L239.7,784.5" stroke-width="5.91"/><path d="M239.7,784.5 L241.1,783.8 L242.6,783.1 L244.1,782.3 L245.2,781.2 L246.6,780.5 L248.0,779.8 L249.4,779.1 L251.0,778.5 L252.5,777.8 L254.1,777.2" stroke-width="6.20"/><path d="M254.1,777.2 L255.5,776.3 L257.1,775.7 L258.7,775.2 L260.4,775.2 L261.7,774.8 L262.8,774.5 L263.6,774.2 L264.4,774.0 L265.2,773.8 L266.1,773.8" stroke-width="6.31"/><path d="M266.1,773.8 L267.2,773.7 L268.6,773.5 L270.3,773.4 L272.6,772.7 L275.5,772.6 L279.0,772.2 L279.9,772.2 L280.9,772.2 L282.0,772.1 L283.1,772.1" stroke-width="6.40"/><path d="M283.1,772.1 L284.2,773.4 L285.4,773.4 L286.6,773.3 L287.8,773.3 L289.1,773.3 L290.4,773.2 L291.7,773.2 L293.0,773.2 L294.4,773.2 L295.8,771.9" stroke-width="6.40"/><path d="M295.8,771.9 L297.3,771.9 L298.7,771.9 L300.2,771.9 L301.7,772.7 L303.3,772.7 L304.8,772.7 L306.4,772.7 L308.0,772.8 L309.6,772.8 L311.2,772.8" stroke-width="6.40"/><path d="M311.2,772.8 L312.8,772.8 L314.5,772.4 L316.1,772.4 L317.8,772.4 L319.5,772.4 L321.1,772.9 L322.8,772.9 L324.5,772.9 L326.2,773.2 L327.9,773.2" stroke-width="6.40"/><path d="M327.9,773.2 L329.6,773.2 L331.2,772.7 L332.9,772.7 L334.6,772.7 L336.3,772.4 L338.0,772.4 L339.6,772.4 L341.3,772.4 L342.9,772.1 L344.5,772.1" stroke-width="6.40"/><path d="M344.5,772.1 L346.2,772.1 L347.8,772.1 L349.3,772.2 L350.9,772.2 L352.5,772.2 L354.0,772.2 L355.5,772.0 L357.0,772.0 L358.5,772.0 L359.9,772.0" stroke-width="6.40"/><path d="M359.9,772.0 L361.4,771.9 L362.9,771.9 L364.4,771.9 L365.8,771.8 L367.3,772.0 L368.8,771.9 L370.3,771.9 L371.7,771.9 L373.2,772.8 L374.7,772.7" stroke-width="6.40"/><path d="M374.7,772.7 L376.1,772.7 L377.6,772.7 L379.1,772.2 L380.5,772.2 L382.0,772.2 L383.5,772.2 L385.0,772.5 L386.5,772.5 L387.9,772.5 L389.4,772.4" stroke-width="6.40"/><path d="M389.4,772.4 L390.9,772.6 L392.4,772.6 L393.9,772.5 L395.4,772.5 L396.9,772.3 L398.4,772.3 L399.9,772.3 L401.4,772.3 L402.9,771.2 L404.4,771.2" stroke-width="6.40"/><path d="M404.4,771.2 L405.9,771.2 L407.5,771.2 L409.0,772.4 L410.6,772.4 L412.1,772.4 L413.7,772.3 L415.2,771.2 L416.8,771.2 L418.4,771.2 L420.0,771.2" stroke-width="6.40"/><path d="M420.0,771.2 L421.5,772.1 L423.2,772.1 L424.8,772.1 L426.4,772.1 L428.0,772.2 L429.6,772.3 L431.3,772.3 L432.7,772.3 L434.1,772.1 L435.6,772.1" stroke-width="6.40"/><path d="M435.6,772.1 L437.0,772.1 L438.5,772.1 L439.9,771.8 L441.4,771.8 L442.9,771.9 L444.4,771.9 L445.9,771.5 L447.4,771.5 L448.9,771.5 L450.4,771.6" stroke-width="6.40"/><path d="M450.4,771.6 L452.0,771.6 L453.5,771.7 L455.1,771.7 L456.6,771.8 L458.1,772.6 L459.7,772.6 L461.2,772.7 L462.8,772.7 L464.4,772.2 L466.0,772.3" stroke-width="6.40"/><path d="M466.0,772.3 L467.5,772.3 L469.1,772.4 L470.7,772.8 L472.3,772.9 L473.9,773.0 L475.4,773.0 L477.0,772.7 L478.6,772.7 L480.2,772.8 L481.8,772.8" stroke-width="6.40"/><path d="M481.8,772.8 L483.4,772.8 L484.9,772.8 L486.5,772.9 L488.1,772.9 L489.6,773.1 L491.2,773.2 L492.8,773.2 L494.3,773.3 L495.9,773.9 L497.4,774.0" stroke-width="6.40"/><path d="M497.4,774.0 L499.0,774.0 L500.5,774.1 L502.0,773.8 L503.6,773.8 L505.1,773.9 L506.6,773.9 L508.1,773.8 L509.6,773.8 L511.1,773.9 L512.6,773.9" stroke-width="6.40"/><path d="M512.6,773.9 L514.0,774.1 L515.5,774.1 L516.9,774.1 L518.4,774.1 L519.8,774.2 L521.2,774.3 L522.6,774.3 L524.3,774.3 L525.9,774.2 L527.6,774.3" stroke-width="6.40"/><path d="M527.6,774.3 L529.2,774.3 L530.8,774.3 L532.4,774.2 L534.0,774.2 L535.6,774.2 L537.2,774.2 L538.8,774.9 L540.4,774.9 L541.9,774.9 L543.5,774.9" stroke-width="6.40"/><path d="M543.5,774.9 L545.0,774.6 L546.5,774.6 L548.1,774.5 L549.6,774.5 L551.1,773.8 L552.6,773.8 L554.1,773.8 L555.6,773.7 L557.1,773.8 L558.6,773.8" stroke-width="6.40"/><path d="M558.6,773.8 L560.1,773.8 L561.6,773.8 L563.1,773.6 L564.5,773.5 L566.0,773.5 L567.5,773.5 L569.0,773.7 L570.4,773.7 L571.9,773.7 L573.4,773.6" stroke-width="6.40"/><path d="M573.4,773.6 L574.9,773.1 L576.3,773.1 L577.8,773.1 L579.3,773.0 L580.8,774.0 L582.3,774.0 L583.7,773.9 L585.2,773.9 L586.7,773.6 L588.2,773.6" stroke-width="6.40"/><path d="M588.2,773.6 L589.7,773.6 L591.2,773.5 L592.7,773.3 L594.2,773.3 L595.7,773.3 L597.3,773.2 L598.8,773.9 L600.3,773.8 L601.8,773.8 L603.3,773.8" stroke-width="6.40"/><path d="M603.3,773.8 L604.7,772.9 L606.2,772.9 L607.7,772.8 L609.1,772.8 L610.6,773.1 L612.0,773.1 L613.4,773.0 L614.9,773.0 L616.3,773.4 L617.7,773.4" stroke-width="6.40"/><path d="M617.7,773.4 L619.2,773.3 L620.6,773.2 L622.0,772.7 L623.4,772.6 L624.8,772.6 L626.2,772.5 L627.7,772.5 L629.1,772.5 L630.5,772.4 L631.9,772.4" stroke-width="6.40"/><path d="M631.9,772.4 L633.4,772.0 L634.8,771.9 L636.3,771.9 L637.7,771.8 L639.2,772.6 L640.7,772.6 L642.1,772.5 L643.6,772.5 L645.1,772.1 L646.6,772.1" stroke-width="6.40"/><path d="M646.6,772.1 L648.1,772.0 L649.6,772.0 L651.1,771.3 L652.7,771.3 L654.3,771.2 L655.8,771.2 L657.4,771.2 L659.0,771.2 L660.6,771.2 L662.3,771.2" stroke-width="6.40"/><path d="M662.3,771.2 L663.9,771.5 L665.6,771.5 L667.3,771.4 L669.0,771.3 L670.7,771.3 L672.5,771.3 L674.2,771.3 L676.0,771.3 L677.3,771.3 L678.7,771.3" stroke-width="6.40"/><path d="M678.7,771.3 L680.0,770.9 L681.4,770.9 L682.8,770.9 L684.2,771.0 L685.6,771.5 L687.1,771.5 L688.6,771.6 L690.0,771.6 L691.5,771.8 L693.0,771.9" stroke-width="6.40"/><path d="M693.0,771.9 L694.6,771.9 L696.1,771.9 L697.6,772.1 L699.2,772.1 L700.8,772.2 L702.3,772.2 L703.9,771.8 L705.5,771.9 L707.2,771.9 L708.8,772.0" stroke-width="6.40"/><path d="M708.8,772.0 L710.4,772.0 L712.0,772.1 L713.6,772.1 L715.3,772.2 L716.9,772.3 L718.6,772.4 L720.2,772.4 L721.9,772.5 L723.5,772.6 L725.2,772.7" stroke-width="6.40"/><path d="M725.2,772.7 L726.8,772.7 L728.5,772.8 L730.1,772.8 L731.8,772.8 L733.4,772.9 L735.0,772.9 L736.7,772.3 L738.3,772.4 L740.0,772.5 L741.6,772.5" stroke-width="6.40"/><path d="M741.6,772.5 L743.2,772.9 L744.8,773.0 L746.4,773.0 L748.0,773.1 L749.6,774.1 L751.1,774.2 L752.7,774.2 L754.2,774.3 L755.8,774.1 L757.3,774.1" stroke-width="6.40"/><path d="M757.3,774.1 L758.8,774.2 L760.3,774.2 L761.8,773.8 L763.3,773.8 L764.8,773.8 L766.2,773.8 L767.6,774.3 L769.0,774.3 L770.4,774.3 L771.8,774.3" stroke-width="6.40"/><path d="M771.8,774.3 L773.2,773.6 L774.5,773.6 L775.8,773.6 L777.1,773.6 L778.3,773.7 L779.6,773.7 L780.8,773.7 L782.0,773.7 L784.1,774.0 L786.2,774.0" stroke-width="6.40"/><path d="M786.2,774.0 L788.3,773.9 L790.3,774.1 L792.3,774.0 L794.3,774.0 L796.2,772.9 L798.2,772.8 L800.1,772.7 L802.0,773.2 L803.9,773.1 L805.7,773.0" stroke-width="6.40"/><path d="M805.7,773.0 L807.5,773.5 L809.3,773.4 L811.0,773.2 L812.7,772.7 L814.4,772.5 L816.0,772.4 L817.6,772.2 L819.2,772.6 L820.8,772.5 L822.3,772.3" stroke-width="6.39"/><path d="M822.3,772.3 L823.7,772.2 L825.0,770.8 L826.4,770.7 L827.7,770.5 L829.0,770.4 L830.4,771.4 L831.7,771.2 L832.8,771.1 L834.0,771.0 L835.1,770.9" stroke-width="6.39"/><path d="M835.1,770.9 L836.1,770.7 L837.2,770.6 L838.1,770.5 L839.0,770.4 L839.9,770.3 L840.8,770.2 L841.5,769.0" stroke-width="6.39"/></g>
<path d="M172.50,541.4v-13M172.50,15.7v13M194.75,541.4v-7M194.75,15.7v7M217.00,541.4v-7M217.00,15.7v7M239.25,541.4v-7M239.25,15.7v7M261.50,541.4v-7M261.50,15.7v7M283.75,541.4v-13M283.75,15.7v13M306.00,541.4v-7M306.00,15.7v7M328.25,541.4v-7M328.25,15.7v7M350.50,541.4v-7M350.50,15.7v7M372.75,541.4v-7M372.75,15.7v7M395.00,541.4v-13M395.00,15.7v13M417.25,541.4v-7M417.25,15.7v7M439.50,541.4v-7M439.50,15.7v7M461.75,541.4v-7M461.75,15.7v7M484.00,541.4v-7M484.00,15.7v7M506.25,541.4v-13M506.25,15.7v13M528.50,541.4v-7M528.50,15.7v7M550.75,541.4v-7M550.75,15.7v7M573.00,541.4v-7M573.00,15.7v7M595.25,541.4v-7M595.25,15.7v7M617.50,541.4v-13M617.50,15.7v13M639.75,541.4v-7M639.75,15.7v7M662.00,541.4v-7M662.00,15.7v7M684.25,541.4v-7M684.25,15.7v7M706.50,541.4v-7M706.50,15.7v7M728.75,541.4v-13M728.75,15.7v13M751.00,541.4v-7M751.00,15.7v7M773.25,541.4v-7M773.25,15.7v7M795.50,541.4v-7M795.50,15.7v7M817.75,541.4v-7M817.75,15.7v7M840.00,541.4v-13M840.00,15.7v13M166.0,540.40h14M841.0,540.40h-14M166.0,525.44h9M841.0,525.44h-9M166.0,510.47h9M841.0,510.47h-9M166.0,495.51h9M841.0,495.51h-9M166.0,480.55h9M841.0,480.55h-9M166.0,465.59h14M841.0,465.59h-14M166.0,450.62h9M841.0,450.62h-9M166.0,435.66h9M841.0,435.66h-9M166.0,420.70h9M841.0,420.70h-9M166.0,405.73h9M841.0,405.73h-9M166.0,390.77h14M841.0,390.77h-14M166.0,375.81h9M841.0,375.81h-9M166.0,360.85h9M841.0,360.85h-9M166.0,345.88h9M841.0,345.88h-9M166.0,330.92h9M841.0,330.92h-9M166.0,315.96h14M841.0,315.96h-14M166.0,300.99h9M841.0,300.99h-9M166.0,286.03h9M841.0,286.03h-9M166.0,271.07h9M841.0,271.07h-9M166.0,256.11h9M841.0,256.11h-9M166.0,241.14h14M841.0,241.14h-14M166.0,226.18h9M841.0,226.18h-9M166.0,211.22h9M841.0,211.22h-9M166.0,196.25h9M841.0,196.25h-9M166.0,181.29h9M841.0,181.29h-9M166.0,166.33h14M841.0,166.33h-14M166.0,151.37h9M841.0,151.37h-9M166.0,136.40h9M841.0,136.40h-9M166.0,121.44h9M841.0,121.44h-9M166.0,106.48h9M841.0,106.48h-9M166.0,91.51h14M841.0,91.51h-14M166.0,76.55h9M841.0,76.55h-9M166.0,61.59h9M841.0,61.59h-9M166.0,46.63h9M841.0,46.63h-9M166.0,31.66h9M841.0,31.66h-9M166.0,16.70h14M841.0,16.70h-14" stroke="#000" stroke-width="3.2" fill="none"/>
<path d="M167.50,1189.6v-13M167.50,663.6v13M189.92,1189.6v-7M189.92,663.6v7M212.33,1189.6v-7M212.33,663.6v7M234.75,1189.6v-7M234.75,663.6v7M257.17,1189.6v-7M257.17,663.6v7M279.58,1189.6v-13M279.58,663.6v13M302.00,1189.6v-7M302.00,663.6v7M324.42,1189.6v-7M324.42,663.6v7M346.83,1189.6v-7M346.83,663.6v7M369.25,1189.6v-7M369.25,663.6v7M391.67,1189.6v-13M391.67,663.6v13M414.08,1189.6v-7M414.08,663.6v7M436.50,1189.6v-7M436.50,663.6v7M458.92,1189.6v-7M458.92,663.6v7M481.33,1189.6v-7M481.33,663.6v7M503.75,1189.6v-13M503.75,663.6v13M526.17,1189.6v-7M526.17,663.6v7M548.58,1189.6v-7M548.58,663.6v7M571.00,1189.6v-7M571.00,663.6v7M593.42,1189.6v-7M593.42,663.6v7M615.83,1189.6v-13M615.83,663.6v13M638.25,1189.6v-7M638.25,663.6v7M660.67,1189.6v-7M660.67,663.6v7M683.08,1189.6v-7M683.08,663.6v7M705.50,1189.6v-7M705.50,663.6v7M727.92,1189.6v-13M727.92,663.6v13M750.33,1189.6v-7M750.33,663.6v7M772.75,1189.6v-7M772.75,663.6v7M795.17,1189.6v-7M795.17,663.6v7M817.58,1189.6v-7M817.58,663.6v7M840.00,1189.6v-13M840.00,663.6v13M166.5,1188.60h13M841.0,1188.60h-13M166.5,1171.13h8M841.0,1171.13h-8M166.5,1153.67h8M841.0,1153.67h-8M166.5,1136.20h8M841.0,1136.20h-8M166.5,1118.73h8M841.0,1118.73h-8M166.5,1101.27h13M841.0,1101.27h-13M166.5,1083.80h8M841.0,1083.80h-8M166.5,1066.33h8M841.0,1066.33h-8M166.5,1048.87h8M841.0,1048.87h-8M166.5,1031.40h8M841.0,1031.40h-8M166.5,1013.93h13M841.0,1013.93h-13M166.5,996.47h8M841.0,996.47h-8M166.5,979.00h8M841.0,979.00h-8M166.5,961.53h8M841.0,961.53h-8M166.5,944.07h8M841.0,944.07h-8M166.5,926.60h13M841.0,926.60h-13M166.5,909.13h8M841.0,909.13h-8M166.5,891.67h8M841.0,891.67h-8M166.5,874.20h8M841.0,874.20h-8M166.5,856.73h8M841.0,856.73h-8M166.5,839.27h13M841.0,839.27h-13M166.5,821.80h8M841.0,821.80h-8M166.5,804.33h8M841.0,804.33h-8M166.5,786.87h8M841.0,786.87h-8M166.5,769.40h8M841.0,769.40h-8M166.5,751.93h13M841.0,751.93h-13M166.5,734.47h8M841.0,734.47h-8M166.5,717.00h8M841.0,717.00h-8M166.5,699.53h8M841.0,699.53h-8M166.5,682.07h8M841.0,682.07h-8M166.5,664.60h13M841.0,664.60h-13" stroke="#000" stroke-width="3.2" fill="none"/>
<text x="-0.89" y="29.00" font-size="42" fill="#000" font-family="Liberation Serif, serif" font-weight="bold" textLength="49.02" lengthAdjust="spacingAndGlyphs" xml:space="preserve">(a)</text>
<text x="27.35" y="660.60" font-size="41" fill="#000" font-family="Liberation Serif, serif" font-weight="bold" textLength="52.98" lengthAdjust="spacingAndGlyphs" xml:space="preserve">(b)</text>
<text x="150.50" y="545.20" font-size="30" fill="#000" font-family="Liberation Serif, serif" font-weight="bold" text-anchor="end">0</text>
<text x="150.50" y="470.39" font-size="30" fill="#000" font-family="Liberation Serif, serif" font-weight="bold" text-anchor="end">1</text>
<text x="150.50" y="395.57" font-size="30" fill="#000" font-family="Liberation Serif, serif" font-weight="bold" text-anchor="end">2</text>
<text x="150.50" y="320.76" font-size="30" fill="#000" font-family="Liberation Serif, serif" font-weight="bold" text-anchor="end">3</text>
<text x="150.50" y="245.94" font-size="30" fill="#000" font-family="Liberation Serif, serif" font-weight="bold" text-anchor="end">4</text>
<text x="150.50" y="171.13" font-size="30" fill="#000" font-family="Liberation Serif, serif" font-weight="bold" text-anchor="end">5</text>
<text x="150.50" y="96.31" font-size="30" fill="#000" font-family="Liberation Serif, serif" font-weight="bold" text-anchor="end">6</text>
<text x="150.50" y="21.50" font-size="30" fill="#000" font-family="Liberation Serif, serif" font-weight="bold" text-anchor="end">7</text>
<text x="172.50" y="568.30" font-size="30" fill="#000" font-family="Liberation Serif, serif" font-weight="bold" text-anchor="middle">0</text>
<text x="283.75" y="568.30" font-size="30" fill="#000" font-family="Liberation Serif, serif" font-weight="bold" text-anchor="middle">10</text>
<text x="395.00" y="568.30" font-size="30" fill="#000" font-family="Liberation Serif, serif" font-weight="bold" text-anchor="middle">20</text>
<text x="506.25" y="568.30" font-size="30" fill="#000" font-family="Liberation Serif, serif" font-weight="bold" text-anchor="middle">30</text>
<text x="617.50" y="568.30" font-size="30" fill="#000" font-family="Liberation Serif, serif" font-weight="bold" text-anchor="middle">40</text>
<text x="728.75" y="568.30" font-size="30" fill="#000" font-family="Liberation Serif, serif" font-weight="bold" text-anchor="middle">50</text>
<text x="840.00" y="568.30" font-size="30" fill="#000" font-family="Liberation Serif, serif" font-weight="bold" text-anchor="middle">60</text>
<text x="149.50" y="1193.80" font-size="30" fill="#000" font-family="Liberation Serif, serif" font-weight="bold" text-anchor="end">0</text>
<text x="149.50" y="1106.47" font-size="30" fill="#000" font-family="Liberation Serif, serif" font-weight="bold" text-anchor="end">5</text>
<text x="149.50" y="1019.13" font-size="30" fill="#000" font-family="Liberation Serif, serif" font-weight="bold" text-anchor="end">10</text>
<text x="149.50" y="931.80" font-size="30" fill="#000" font-family="Liberation Serif, serif" font-weight="bold" text-anchor="end">15</text>
<text x="149.50" y="844.47" font-size="30" fill="#000" font-family="Liberation Serif, serif" font-weight="bold" text-anchor="end">20</text>
<text x="149.50" y="757.13" font-size="30" fill="#000" font-family="Liberation Serif, serif" font-weight="bold" text-anchor="end">25</text>
<text x="149.50" y="669.80" font-size="30" fill="#000" font-family="Liberation Serif, serif" font-weight="bold" text-anchor="end">30</text>
<text x="167.50" y="1216.30" font-size="30" fill="#000" font-family="Liberation Serif, serif" font-weight="bold" text-anchor="middle">0</text>
<text x="279.58" y="1216.30" font-size="30" fill="#000" font-family="Liberation Serif, serif" font-weight="bold" text-anchor="middle">10</text>
<text x="391.67" y="1216.30" font-size="30" fill="#000" font-family="Liberation Serif, serif" font-weight="bold" text-anchor="middle">20</text>
<text x="503.75" y="1216.30" font-size="30" fill="#000" font-family="Liberation Serif, serif" font-weight="bold" text-anchor="middle">30</text>
<text x="615.83" y="1216.30" font-size="30" fill="#000" font-family="Liberation Serif, serif" font-weight="bold" text-anchor="middle">40</text>
<text x="727.92" y="1216.30" font-size="30" fill="#000" font-family="Liberation Serif, serif" font-weight="bold" text-anchor="middle">50</text>
<text x="840.00" y="1216.30" font-size="30" fill="#000" font-family="Liberation Serif, serif" font-weight="bold" text-anchor="middle">60</text>
<text x="308.52" y="624.00" font-size="37" fill="#000" font-family="Liberation Serif, serif" font-weight="bold" textLength="266.01" lengthAdjust="spacingAndGlyphs" xml:space="preserve">Anodizing Time,</text>
<text x="579.39" y="624.00" font-size="37" fill="#000" font-family="Liberation Serif, serif" font-weight="bold" font-style="italic" textLength="14.95" lengthAdjust="spacingAndGlyphs" xml:space="preserve">t</text>
<text x="595.09" y="641.20" font-size="27" fill="#000" font-family="Liberation Serif, serif" font-weight="bold" textLength="11.87" lengthAdjust="spacingAndGlyphs" xml:space="preserve">a</text>
<text x="616.37" y="624.00" font-size="37" fill="#000" font-family="Liberation Serif, serif" font-weight="bold" textLength="80.98" lengthAdjust="spacingAndGlyphs" xml:space="preserve">/ min</text>
<text x="337.63" y="1271.30" font-size="37" fill="#000" font-family="Liberation Serif, serif" font-weight="bold" textLength="337.04" lengthAdjust="spacingAndGlyphs" xml:space="preserve">Anodizng Time / min</text>
<text transform="translate(103.50,504.40) rotate(-90)" x="-1.90" y="0" font-size="36" fill="#000" font-family="Liberation Serif, serif" font-weight="bold" textLength="271.34" lengthAdjust="spacingAndGlyphs" xml:space="preserve">Current Density,</text>
<text transform="translate(103.80,226.00) rotate(-90)" x="-1.07" y="0" font-size="36" fill="#000" font-family="Liberation Serif, serif" font-weight="bold" font-style="italic" textLength="11.89" lengthAdjust="spacingAndGlyphs" xml:space="preserve">i</text>
<text transform="translate(120.60,214.60) rotate(-90)" x="-0.74" y="0" font-size="26" fill="#000" font-family="Liberation Serif, serif" font-weight="bold" textLength="12.31" lengthAdjust="spacingAndGlyphs" xml:space="preserve">a</text>
<text transform="translate(103.80,192.70) rotate(-90)" x="0.37" y="0" font-size="36" fill="#000" font-family="Liberation Serif, serif" font-weight="bold" textLength="132.56" lengthAdjust="spacingAndGlyphs" xml:space="preserve">/ mA cm</text>
<text transform="translate(86.00,56.60) rotate(-90)" x="-0.86" y="0" font-size="26" fill="#000" font-family="Liberation Serif, serif" font-weight="bold" textLength="20.39" lengthAdjust="spacingAndGlyphs" xml:space="preserve">-2</text>
<text transform="translate(84.10,1086.90) rotate(-90)" x="-0.38" y="0" font-size="37" fill="#000" font-family="Liberation Serif, serif" font-weight="bold" textLength="354.07" lengthAdjust="spacingAndGlyphs" xml:space="preserve">Anodizing Voltage / V</text>
<path d="M607.5,1036 V822.1 H821.4 V1036" fill="#fff" stroke="#c4c4c4" stroke-width="1.4"/>
<text x="630.63" y="858.00" font-size="36" fill="#000" font-family="Liberation Serif, serif" font-weight="bold" textLength="145.02" lengthAdjust="spacingAndGlyphs" xml:space="preserve">1 mA cm</text>
<text x="775.53" y="841.80" font-size="26" fill="#000" font-family="Liberation Serif, serif" font-weight="bold" textLength="20.72" lengthAdjust="spacingAndGlyphs" xml:space="preserve">-2</text>
<text x="632.18" y="905.60" font-size="36" fill="#1414d2" font-family="Liberation Serif, serif" font-weight="bold" textLength="143.46" lengthAdjust="spacingAndGlyphs" xml:space="preserve">2 mA cm</text>
<text x="775.53" y="889.40" font-size="26" fill="#1414d2" font-family="Liberation Serif, serif" font-weight="bold" textLength="20.72" lengthAdjust="spacingAndGlyphs" xml:space="preserve">-2</text>
<text x="632.37" y="955.50" font-size="36" fill="#148c1e" font-family="Liberation Serif, serif" font-weight="bold" textLength="143.27" lengthAdjust="spacingAndGlyphs" xml:space="preserve">3 mA cm</text>
<text x="775.53" y="939.30" font-size="26" fill="#148c1e" font-family="Liberation Serif, serif" font-weight="bold" textLength="20.72" lengthAdjust="spacingAndGlyphs" xml:space="preserve">-2</text>
<text x="632.18" y="1007.50" font-size="36" fill="#e61414" font-family="Liberation Serif, serif" font-weight="bold" textLength="143.46" lengthAdjust="spacingAndGlyphs" xml:space="preserve">5 mA cm</text>
<text x="775.53" y="991.30" font-size="26" fill="#e61414" font-family="Liberation Serif, serif" font-weight="bold" textLength="20.72" lengthAdjust="spacingAndGlyphs" xml:space="preserve">-2</text>
</svg></body></html>
